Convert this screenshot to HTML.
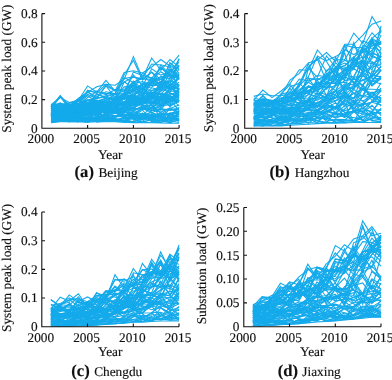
<!DOCTYPE html>
<html><head><meta charset="utf-8"><title>Load curves</title>
<style>
html,body{margin:0;padding:0;background:#fff}
svg{display:block}
text{font-family:"Liberation Serif",serif;fill:#111;text-rendering:geometricPrecision;stroke:#111;stroke-width:0.15px}
.t{font-size:13.3px}
.b{font-size:16.6px;font-weight:bold}
.pl polyline{fill:none;stroke:#14AAEB;stroke-width:1.1;stroke-linejoin:miter}
.ax{fill:none;stroke:#111;stroke-width:1.1}
</style></head><body>
<svg width="392" height="380" viewBox="0 0 392 380">
<rect width="392" height="380" fill="#fff"/>
<g class="pl">
<polyline points="51.0,104.6 60.2,97.6 69.3,102.5 78.5,100.0 87.6,85.9 96.8,92.2 105.9,80.4 115.1,91.1 124.2,72.4 133.4,70.8 142.5,73.0 151.7,67.0 160.8,59.5 170.0,66.0 179.1,55.2"/>
<polyline points="51.0,107.2 60.2,95.6 69.3,106.3 78.5,98.2 87.6,92.2 96.8,86.7 105.9,84.4 115.1,85.3 124.2,79.2 133.4,56.6 142.5,78.3 151.7,58.0 160.8,70.3 170.0,59.5 179.1,67.1"/>
<polyline points="51.0,122.6 60.2,121.8 69.3,121.8 78.5,121.8 87.6,122.3 96.8,121.8 105.9,121.8 115.1,121.8 124.2,122.1 133.4,122.6 142.5,122.6 151.7,122.6 160.8,122.9 170.0,123.3 179.1,123.3"/>
<polyline points="51.0,114.4 60.2,103.2 69.3,107.7 78.5,106.3 87.6,97.5 96.8,91.5 105.9,93.4 115.1,93.9 124.2,74.7 133.4,60.2 142.5,80.1 151.7,71.9 160.8,79.4 170.0,82.4 179.1,58.7"/>
<polyline points="51.0,115.3 60.2,102.9 69.3,109.5 78.5,100.8 87.6,91.7 96.8,91.0 105.9,94.8 115.1,89.5 124.2,89.7 133.4,82.3 142.5,77.7 151.7,64.0 160.8,65.0 170.0,74.8 179.1,76.7"/>
<polyline points="51.0,111.8 60.2,111.3 69.3,111.6 78.5,100.2 87.6,92.0 96.8,98.2 105.9,85.7 115.1,97.7 124.2,77.6 133.4,82.7 142.5,78.2 151.7,81.1 160.8,77.1 170.0,78.6 179.1,65.9"/>
<polyline points="51.0,108.9 60.2,96.7 69.3,108.8 78.5,105.8 87.6,100.1 96.8,98.0 105.9,85.8 115.1,90.9 124.2,90.8 133.4,74.9 142.5,85.9 151.7,68.8 160.8,75.1 170.0,72.1 179.1,62.1"/>
<polyline points="51.0,107.8 60.2,109.7 69.3,107.0 78.5,107.4 87.6,94.4 96.8,98.6 105.9,95.7 115.1,93.6 124.2,78.4 133.4,76.9 142.5,79.3 151.7,72.3 160.8,82.5 170.0,62.9 179.1,73.4"/>
<polyline points="51.0,107.3 60.2,96.8 69.3,105.0 78.5,104.9 87.6,92.3 96.8,96.4 105.9,91.8 115.1,93.6 124.2,93.0 133.4,71.9 142.5,75.5 151.7,78.1 160.8,68.1 170.0,75.5 179.1,78.4"/>
<polyline points="51.0,110.7 60.2,103.3 69.3,106.5 78.5,104.6 87.6,90.2 96.8,93.4 105.9,84.3 115.1,90.5 124.2,81.9 133.4,77.1 142.5,79.0 151.7,79.0 160.8,84.3 170.0,62.9 179.1,69.8"/>
<polyline points="51.0,113.6 60.2,115.0 69.3,110.3 78.5,112.4 87.6,107.0 96.8,111.5 105.9,109.0 115.1,103.8 124.2,98.3 133.4,99.2 142.5,94.2 151.7,97.3 160.8,82.2 170.0,85.9 179.1,89.8"/>
<polyline points="51.0,110.4 60.2,112.3 69.3,112.0 78.5,109.0 87.6,104.0 96.8,108.9 105.9,104.1 115.1,98.9 124.2,94.3 133.4,87.9 142.5,92.9 151.7,94.1 160.8,83.1 170.0,83.0 179.1,73.7"/>
<polyline points="51.0,115.3 60.2,114.7 69.3,112.0 78.5,110.2 87.6,113.8 96.8,110.4 105.9,111.7 115.1,109.0 124.2,106.7 133.4,102.4 142.5,88.2 151.7,95.2 160.8,86.0 170.0,84.6 179.1,77.5"/>
<polyline points="51.0,119.7 60.2,117.7 69.3,118.6 78.5,118.0 87.6,119.2 96.8,118.8 105.9,114.3 115.1,112.2 124.2,116.6 133.4,115.0 142.5,117.4 151.7,120.4 160.8,122.6 170.0,114.3 179.1,111.6"/>
<polyline points="51.0,122.3 60.2,117.8 69.3,121.5 78.5,117.8 87.6,117.4 96.8,119.7 105.9,119.6 115.1,115.8 124.2,116.1 133.4,111.4 142.5,119.2 151.7,116.3 160.8,115.5 170.0,118.8 179.1,119.9"/>
<polyline points="51.0,115.9 60.2,113.2 69.3,109.7 78.5,109.4 87.6,110.6 96.8,109.5 105.9,109.3 115.1,107.8 124.2,102.1 133.4,103.9 142.5,97.7 151.7,99.2 160.8,89.4 170.0,85.1 179.1,84.8"/>
<polyline points="51.0,114.4 60.2,116.4 69.3,111.5 78.5,114.2 87.6,113.7 96.8,109.9 105.9,110.8 115.1,112.9 124.2,116.8 133.4,106.1 142.5,102.9 151.7,102.7 160.8,98.6 170.0,106.6 179.1,100.2"/>
<polyline points="51.0,113.2 60.2,116.5 69.3,114.0 78.5,112.8 87.6,112.9 96.8,110.0 105.9,112.4 115.1,113.0 124.2,108.9 133.4,109.1 142.5,107.9 151.7,108.8 160.8,110.2 170.0,97.6 179.1,105.9"/>
<polyline points="51.0,109.9 60.2,114.2 69.3,110.0 78.5,114.9 87.6,106.8 96.8,103.6 105.9,104.6 115.1,108.0 124.2,93.5 133.4,97.4 142.5,97.0 151.7,95.0 160.8,88.6 170.0,85.7 179.1,78.8"/>
<polyline points="51.0,106.3 60.2,104.9 69.3,102.9 78.5,101.9 87.6,100.4 96.8,100.4 105.9,102.6 115.1,96.7 124.2,96.1 133.4,88.9 142.5,84.6 151.7,82.5 160.8,76.5 170.0,76.0 179.1,78.4"/>
<polyline points="51.0,118.6 60.2,118.7 69.3,119.5 78.5,118.5 87.6,118.8 96.8,117.7 105.9,115.2 115.1,119.5 124.2,121.9 133.4,121.6 142.5,119.3 151.7,119.3 160.8,116.7 170.0,120.2 179.1,116.2"/>
<polyline points="51.0,105.7 60.2,103.6 69.3,105.2 78.5,103.3 87.6,104.9 96.8,100.9 105.9,98.9 115.1,99.6 124.2,105.5 133.4,88.2 142.5,86.6 151.7,82.3 160.8,79.6 170.0,75.3 179.1,58.7"/>
<polyline points="51.0,115.1 60.2,119.2 69.3,121.7 78.5,117.7 87.6,121.5 96.8,120.5 105.9,119.7 115.1,121.4 124.2,121.9 133.4,121.0 142.5,113.1 151.7,121.6 160.8,122.4 170.0,118.9 179.1,121.0"/>
<polyline points="51.0,107.1 60.2,96.1 69.3,105.8 78.5,99.3 87.6,108.0 96.8,107.6 105.9,104.0 115.1,99.9 124.2,99.5 133.4,95.5 142.5,102.7 151.7,95.9 160.8,98.2 170.0,98.7 179.1,94.4"/>
<polyline points="51.0,114.7 60.2,110.8 69.3,114.0 78.5,114.4 87.6,114.0 96.8,114.2 105.9,110.9 115.1,111.5 124.2,112.2 133.4,113.1 142.5,108.7 151.7,104.0 160.8,118.4 170.0,120.1 179.1,119.7"/>
<polyline points="51.0,113.4 60.2,111.1 69.3,114.0 78.5,108.5 87.6,106.8 96.8,108.3 105.9,102.1 115.1,100.5 124.2,98.6 133.4,93.9 142.5,88.2 151.7,87.0 160.8,82.1 170.0,87.8 179.1,86.7"/>
<polyline points="51.0,104.9 60.2,105.3 69.3,107.3 78.5,100.0 87.6,95.7 96.8,101.8 105.9,98.2 115.1,98.4 124.2,86.9 133.4,86.4 142.5,88.0 151.7,82.6 160.8,67.2 170.0,76.1 179.1,77.9"/>
<polyline points="51.0,114.8 60.2,113.9 69.3,112.4 78.5,110.1 87.6,110.9 96.8,109.6 105.9,109.8 115.1,102.2 124.2,96.1 133.4,90.9 142.5,83.6 151.7,85.0 160.8,81.9 170.0,82.9 179.1,89.3"/>
<polyline points="51.0,107.9 60.2,107.3 69.3,106.6 78.5,104.8 87.6,99.9 96.8,102.7 105.9,100.4 115.1,93.9 124.2,95.9 133.4,90.5 142.5,88.6 151.7,77.4 160.8,84.4 170.0,71.3 179.1,75.9"/>
<polyline points="51.0,122.3 60.2,120.5 69.3,118.9 78.5,120.9 87.6,118.7 96.8,121.7 105.9,121.4 115.1,121.0 124.2,117.0 133.4,119.2 142.5,119.1 151.7,113.6 160.8,114.2 170.0,108.6 179.1,105.0"/>
<polyline points="51.0,114.0 60.2,109.6 69.3,111.4 78.5,116.7 87.6,118.3 96.8,117.6 105.9,121.1 115.1,120.8 124.2,120.5 133.4,115.9 142.5,122.0 151.7,119.5 160.8,121.0 170.0,122.4 179.1,111.1"/>
<polyline points="51.0,108.8 60.2,109.6 69.3,104.6 78.5,105.5 87.6,105.0 96.8,105.5 105.9,104.3 115.1,107.1 124.2,101.7 133.4,96.1 142.5,87.7 151.7,98.3 160.8,94.3 170.0,97.4 179.1,95.4"/>
<polyline points="51.0,120.2 60.2,119.2 69.3,117.1 78.5,118.8 87.6,119.2 96.8,116.9 105.9,117.9 115.1,116.5 124.2,111.0 133.4,111.3 142.5,106.8 151.7,111.0 160.8,105.8 170.0,104.6 179.1,101.4"/>
<polyline points="51.0,108.7 60.2,107.1 69.3,107.5 78.5,106.5 87.6,105.6 96.8,101.7 105.9,106.8 115.1,99.9 124.2,94.3 133.4,85.1 142.5,89.3 151.7,90.4 160.8,87.5 170.0,78.7 179.1,64.9"/>
<polyline points="51.0,120.6 60.2,116.9 69.3,116.8 78.5,115.8 87.6,115.7 96.8,113.7 105.9,117.4 115.1,118.4 124.2,111.3 133.4,114.5 142.5,115.3 151.7,107.0 160.8,96.1 170.0,98.5 179.1,93.2"/>
<polyline points="51.0,119.5 60.2,119.4 69.3,120.6 78.5,117.9 87.6,119.5 96.8,121.7 105.9,121.2 115.1,120.4 124.2,121.7 133.4,117.3 142.5,107.3 151.7,110.8 160.8,109.4 170.0,110.4 179.1,109.0"/>
<polyline points="51.0,108.3 60.2,109.7 69.3,108.9 78.5,99.5 87.6,104.8 96.8,93.4 105.9,98.5 115.1,99.4 124.2,92.7 133.4,81.0 142.5,89.3 151.7,82.2 160.8,83.7 170.0,70.0 179.1,78.8"/>
<polyline points="51.0,115.6 60.2,112.6 69.3,115.0 78.5,110.1 87.6,112.3 96.8,108.9 105.9,110.7 115.1,108.9 124.2,101.5 133.4,102.1 142.5,100.9 151.7,108.4 160.8,99.7 170.0,97.2 179.1,98.0"/>
<polyline points="51.0,116.0 60.2,114.6 69.3,114.7 78.5,116.1 87.6,112.1 96.8,107.6 105.9,109.1 115.1,106.4 124.2,105.3 133.4,99.1 142.5,104.4 151.7,97.7 160.8,99.9 170.0,99.4 179.1,89.3"/>
<polyline points="51.0,108.9 60.2,106.6 69.3,108.7 78.5,108.1 87.6,107.7 96.8,107.3 105.9,107.6 115.1,103.0 124.2,93.4 133.4,98.4 142.5,92.6 151.7,94.6 160.8,91.3 170.0,85.3 179.1,77.1"/>
<polyline points="51.0,117.2 60.2,116.6 69.3,114.0 78.5,118.3 87.6,112.4 96.8,108.9 105.9,108.4 115.1,108.3 124.2,96.5 133.4,97.1 142.5,83.1 151.7,82.8 160.8,84.8 170.0,81.9 179.1,69.0"/>
<polyline points="51.0,110.9 60.2,110.1 69.3,112.6 78.5,111.4 87.6,100.2 96.8,108.6 105.9,107.1 115.1,103.6 124.2,105.8 133.4,107.9 142.5,101.3 151.7,103.1 160.8,98.7 170.0,103.9 179.1,98.4"/>
<polyline points="51.0,115.9 60.2,118.1 69.3,117.4 78.5,113.2 87.6,113.4 96.8,111.4 105.9,110.7 115.1,109.6 124.2,106.7 133.4,103.5 142.5,102.5 151.7,103.1 160.8,97.9 170.0,100.1 179.1,101.1"/>
<polyline points="51.0,116.1 60.2,113.8 69.3,112.9 78.5,112.0 87.6,113.4 96.8,112.8 105.9,109.7 115.1,110.8 124.2,112.3 133.4,104.0 142.5,104.3 151.7,98.8 160.8,105.0 170.0,100.5 179.1,102.3"/>
<polyline points="51.0,122.5 60.2,119.9 69.3,121.4 78.5,120.3 87.6,119.7 96.8,120.3 105.9,118.1 115.1,120.4 124.2,118.6 133.4,117.8 142.5,114.8 151.7,112.3 160.8,117.4 170.0,109.1 179.1,111.8"/>
<polyline points="51.0,118.3 60.2,119.2 69.3,117.8 78.5,121.2 87.6,119.6 96.8,118.8 105.9,121.5 115.1,120.0 124.2,120.2 133.4,122.1 142.5,122.3 151.7,122.3 160.8,117.6 170.0,117.5 179.1,114.0"/>
<polyline points="51.0,117.0 60.2,114.0 69.3,114.5 78.5,111.0 87.6,113.4 96.8,112.8 105.9,112.2 115.1,113.1 124.2,108.2 133.4,108.2 142.5,109.2 151.7,110.1 160.8,112.1 170.0,107.8 179.1,112.5"/>
<polyline points="51.0,113.3 60.2,116.2 69.3,114.6 78.5,114.8 87.6,113.6 96.8,111.0 105.9,113.0 115.1,111.7 124.2,107.0 133.4,105.3 142.5,94.6 151.7,103.7 160.8,98.5 170.0,96.5 179.1,96.9"/>
<polyline points="51.0,114.0 60.2,113.2 69.3,111.3 78.5,113.7 87.6,111.7 96.8,114.1 105.9,110.3 115.1,110.0 124.2,109.9 133.4,110.5 142.5,105.9 151.7,107.6 160.8,107.7 170.0,99.6 179.1,110.7"/>
<polyline points="51.0,120.7 60.2,117.8 69.3,116.6 78.5,118.9 87.6,119.9 96.8,119.3 105.9,117.3 115.1,113.0 124.2,110.4 133.4,98.1 142.5,105.7 151.7,105.0 160.8,112.9 170.0,116.6 179.1,120.0"/>
<polyline points="51.0,111.1 60.2,106.6 69.3,110.0 78.5,104.4 87.6,104.9 96.8,107.1 105.9,106.0 115.1,102.7 124.2,81.7 133.4,88.5 142.5,97.5 151.7,78.0 160.8,79.6 170.0,69.1 179.1,74.8"/>
<polyline points="51.0,109.3 60.2,108.6 69.3,110.9 78.5,108.1 87.6,105.1 96.8,103.5 105.9,108.4 115.1,100.1 124.2,95.8 133.4,85.4 142.5,94.6 151.7,84.0 160.8,64.8 170.0,66.9 179.1,79.4"/>
<polyline points="51.0,116.3 60.2,110.9 69.3,112.4 78.5,109.4 87.6,110.5 96.8,105.4 105.9,108.6 115.1,101.6 124.2,93.7 133.4,89.0 142.5,73.3 151.7,78.6 160.8,79.4 170.0,84.9 179.1,84.8"/>
<polyline points="51.0,112.3 60.2,111.2 69.3,110.3 78.5,110.0 87.6,107.3 96.8,111.1 105.9,111.4 115.1,109.2 124.2,108.1 133.4,97.5 142.5,100.4 151.7,103.8 160.8,102.7 170.0,99.0 179.1,99.0"/>
<polyline points="51.0,119.3 60.2,119.4 69.3,120.1 78.5,121.1 87.6,121.8 96.8,118.2 105.9,121.5 115.1,120.9 124.2,121.7 133.4,117.4 142.5,115.4 151.7,118.0 160.8,112.5 170.0,120.9 179.1,118.0"/>
<polyline points="51.0,105.6 60.2,103.1 69.3,107.2 78.5,106.2 87.6,102.0 96.8,102.0 105.9,104.3 115.1,102.9 124.2,104.0 133.4,101.4 142.5,99.6 151.7,97.7 160.8,84.5 170.0,88.9 179.1,88.1"/>
<polyline points="51.0,112.4 60.2,108.8 69.3,109.8 78.5,104.4 87.6,106.9 96.8,97.5 105.9,97.7 115.1,100.7 124.2,93.4 133.4,83.8 142.5,81.7 151.7,85.8 160.8,84.8 170.0,66.6 179.1,68.1"/>
<polyline points="51.0,118.8 60.2,119.1 69.3,120.7 78.5,120.8 87.6,119.2 96.8,116.2 105.9,117.7 115.1,116.4 124.2,116.3 133.4,115.1 142.5,119.4 151.7,110.8 160.8,108.4 170.0,115.4 179.1,112.6"/>
<polyline points="51.0,115.5 60.2,114.3 69.3,112.6 78.5,110.5 87.6,105.1 96.8,102.5 105.9,102.4 115.1,102.5 124.2,95.9 133.4,83.1 142.5,90.6 151.7,80.0 160.8,71.7 170.0,77.4 179.1,76.8"/>
<polyline points="51.0,104.9 60.2,106.0 69.3,106.9 78.5,106.6 87.6,106.3 96.8,105.3 105.9,102.0 115.1,104.9 124.2,106.0 133.4,102.9 142.5,102.0 151.7,102.9 160.8,95.3 170.0,99.6 179.1,95.5"/>
<polyline points="51.0,120.1 60.2,121.5 69.3,121.3 78.5,121.6 87.6,118.7 96.8,121.4 105.9,118.5 115.1,119.0 124.2,118.7 133.4,114.3 142.5,115.7 151.7,114.6 160.8,115.0 170.0,113.7 179.1,120.6"/>
<polyline points="51.0,110.1 60.2,110.3 69.3,110.6 78.5,113.3 87.6,111.5 96.8,105.4 105.9,109.5 115.1,104.9 124.2,105.1 133.4,96.5 142.5,98.5 151.7,95.1 160.8,93.2 170.0,95.2 179.1,90.1"/>
<polyline points="51.0,104.7 60.2,106.2 69.3,106.3 78.5,107.2 87.6,102.7 96.8,108.1 105.9,100.6 115.1,104.8 124.2,98.9 133.4,95.2 142.5,90.6 151.7,92.8 160.8,105.1 170.0,95.7 179.1,100.5"/>
<polyline points="51.0,122.2 60.2,120.1 69.3,121.7 78.5,118.4 87.6,121.9 96.8,120.1 105.9,120.9 115.1,119.8 124.2,118.8 133.4,122.2 142.5,116.9 151.7,116.6 160.8,117.9 170.0,122.9 179.1,112.9"/>
<polyline points="51.0,105.5 60.2,105.6 69.3,110.3 78.5,106.8 87.6,104.9 96.8,100.1 105.9,102.8 115.1,94.1 124.2,103.4 133.4,92.1 142.5,91.5 151.7,79.9 160.8,83.9 170.0,89.8 179.1,82.2"/>
<polyline points="51.0,116.4 60.2,117.3 69.3,115.3 78.5,110.9 87.6,114.0 96.8,112.5 105.9,111.8 115.1,108.2 124.2,112.3 133.4,107.6 142.5,104.2 151.7,102.1 160.8,100.4 170.0,102.3 179.1,92.4"/>
<polyline points="51.0,106.9 60.2,105.8 69.3,109.0 78.5,99.7 87.6,110.2 96.8,108.0 105.9,114.0 115.1,113.5 124.2,112.2 133.4,113.8 142.5,114.1 151.7,115.6 160.8,115.2 170.0,122.8 179.1,119.6"/>
<polyline points="51.0,109.2 60.2,109.0 69.3,103.7 78.5,107.0 87.6,106.9 96.8,105.8 105.9,109.4 115.1,107.1 124.2,98.2 133.4,102.6 142.5,97.4 151.7,92.5 160.8,93.9 170.0,85.3 179.1,89.7"/>
<polyline points="51.0,107.9 60.2,105.8 69.3,107.2 78.5,98.9 87.6,105.7 96.8,94.5 105.9,96.9 115.1,94.1 124.2,90.9 133.4,83.2 142.5,93.6 151.7,82.6 160.8,87.4 170.0,80.3 179.1,85.3"/>
<polyline points="51.0,116.6 60.2,120.5 69.3,118.5 78.5,119.8 87.6,120.8 96.8,118.0 105.9,121.0 115.1,117.0 124.2,113.8 133.4,118.2 142.5,117.3 151.7,120.3 160.8,119.8 170.0,121.2 179.1,122.3"/>
<polyline points="51.0,115.9 60.2,116.3 69.3,115.5 78.5,115.6 87.6,120.4 96.8,121.8 105.9,118.9 115.1,118.5 124.2,121.8 133.4,114.5 142.5,118.8 151.7,118.3 160.8,114.3 170.0,114.5 179.1,116.9"/>
<polyline points="51.0,105.4 60.2,105.3 69.3,110.6 78.5,103.9 87.6,105.3 96.8,104.0 105.9,102.6 115.1,105.0 124.2,97.4 133.4,94.8 142.5,97.9 151.7,90.6 160.8,87.5 170.0,87.4 179.1,94.7"/>
<polyline points="51.0,109.5 60.2,108.9 69.3,112.4 78.5,109.0 87.6,102.9 96.8,107.9 105.9,105.0 115.1,104.2 124.2,103.2 133.4,101.2 142.5,100.5 151.7,101.8 160.8,99.1 170.0,90.9 179.1,91.8"/>
<polyline points="51.0,114.7 60.2,113.6 69.3,112.3 78.5,107.9 87.6,112.8 96.8,107.9 105.9,109.3 115.1,105.8 124.2,97.8 133.4,99.1 142.5,98.2 151.7,100.6 160.8,107.0 170.0,97.8 179.1,100.9"/>
<polyline points="51.0,114.9 60.2,115.2 69.3,115.8 78.5,115.4 87.6,115.4 96.8,114.6 105.9,109.8 115.1,107.2 124.2,103.6 133.4,99.5 142.5,100.0 151.7,94.6 160.8,97.5 170.0,87.8 179.1,91.8"/>
<polyline points="51.0,112.5 60.2,112.6 69.3,113.5 78.5,106.2 87.6,110.9 96.8,112.1 105.9,110.2 115.1,110.0 124.2,107.5 133.4,104.0 142.5,105.0 151.7,105.6 160.8,104.6 170.0,100.1 179.1,88.2"/>
<polyline points="51.0,112.6 60.2,113.3 69.3,114.0 78.5,105.1 87.6,110.9 96.8,111.4 105.9,108.1 115.1,108.4 124.2,95.2 133.4,104.5 142.5,102.5 151.7,96.3 160.8,102.4 170.0,89.3 179.1,86.4"/>
<polyline points="51.0,118.9 60.2,117.3 69.3,115.9 78.5,117.4 87.6,115.6 96.8,114.1 105.9,115.0 115.1,110.9 124.2,106.8 133.4,108.9 142.5,100.8 151.7,98.5 160.8,100.4 170.0,93.4 179.1,94.8"/>
<polyline points="51.0,113.1 60.2,110.5 69.3,110.8 78.5,109.0 87.6,109.8 96.8,104.3 105.9,100.6 115.1,104.2 124.2,96.7 133.4,90.4 142.5,96.1 151.7,87.8 160.8,90.1 170.0,72.8 179.1,86.0"/>
<polyline points="51.0,122.4 60.2,121.2 69.3,121.6 78.5,121.5 87.6,122.0 96.8,120.1 105.9,121.4 115.1,120.2 124.2,120.2 133.4,122.5 142.5,121.1 151.7,115.8 160.8,119.8 170.0,122.4 179.1,114.5"/>
<polyline points="51.0,119.7 60.2,119.7 69.3,117.8 78.5,118.4 87.6,119.1 96.8,111.7 105.9,116.5 115.1,110.5 124.2,107.7 133.4,104.1 142.5,99.0 151.7,103.5 160.8,102.1 170.0,99.9 179.1,91.7"/>
<polyline points="51.0,113.8 60.2,114.5 69.3,112.2 78.5,113.2 87.6,114.5 96.8,108.7 105.9,112.2 115.1,110.8 124.2,108.6 133.4,108.0 142.5,96.5 151.7,103.2 160.8,103.8 170.0,101.2 179.1,100.7"/>
<polyline points="51.0,122.0 60.2,118.4 69.3,117.9 78.5,118.8 87.6,116.9 96.8,115.8 105.9,114.1 115.1,110.8 124.2,108.4 133.4,103.7 142.5,102.1 151.7,91.6 160.8,97.6 170.0,89.0 179.1,85.0"/>
<polyline points="51.0,114.7 60.2,114.9 69.3,118.3 78.5,118.8 87.6,119.5 96.8,121.6 105.9,121.3 115.1,119.9 124.2,121.7 133.4,116.5 142.5,116.4 151.7,117.4 160.8,122.4 170.0,115.6 179.1,119.9"/>
<polyline points="51.0,121.8 60.2,120.0 69.3,120.8 78.5,121.8 87.6,118.8 96.8,120.1 105.9,120.0 115.1,116.3 124.2,117.2 133.4,118.2 142.5,119.0 151.7,116.2 160.8,117.2 170.0,117.6 179.1,118.5"/>
<polyline points="51.0,112.4 60.2,117.1 69.3,115.9 78.5,113.7 87.6,113.3 96.8,115.9 105.9,109.7 115.1,111.1 124.2,114.3 133.4,114.6 142.5,118.2 151.7,117.9 160.8,116.9 170.0,118.1 179.1,120.9"/>
<polyline points="51.0,114.3 60.2,116.8 69.3,115.1 78.5,116.8 87.6,113.2 96.8,109.3 105.9,114.3 115.1,111.9 124.2,114.4 133.4,115.2 142.5,108.4 151.7,112.7 160.8,108.9 170.0,109.7 179.1,108.0"/>
<polyline points="51.0,106.9 60.2,107.7 69.3,106.9 78.5,107.3 87.6,109.5 96.8,103.4 105.9,107.8 115.1,102.3 124.2,102.6 133.4,95.6 142.5,100.5 151.7,96.8 160.8,97.5 170.0,93.7 179.1,96.0"/>
<polyline points="51.0,111.8 60.2,113.2 69.3,111.9 78.5,111.3 87.6,108.2 96.8,106.4 105.9,104.7 115.1,109.5 124.2,101.5 133.4,97.8 142.5,99.6 151.7,93.9 160.8,93.6 170.0,95.7 179.1,101.4"/>
<polyline points="51.0,115.0 60.2,117.5 69.3,113.6 78.5,115.6 87.6,114.3 96.8,113.1 105.9,115.4 115.1,115.6 124.2,115.2 133.4,111.7 142.5,113.9 151.7,118.1 160.8,117.4 170.0,112.9 179.1,113.3"/>
<polyline points="51.0,112.3 60.2,112.4 69.3,108.8 78.5,110.0 87.6,109.9 96.8,107.0 105.9,107.4 115.1,100.8 124.2,96.3 133.4,100.5 142.5,99.9 151.7,93.9 160.8,88.0 170.0,92.8 179.1,74.9"/>
<polyline points="51.0,119.2 60.2,118.1 69.3,117.5 78.5,111.7 87.6,115.0 96.8,110.3 105.9,118.0 115.1,116.6 124.2,110.8 133.4,108.9 142.5,109.0 151.7,109.1 160.8,104.9 170.0,102.4 179.1,95.5"/>
<polyline points="51.0,119.6 60.2,116.0 69.3,120.0 78.5,116.1 87.6,117.7 96.8,117.6 105.9,118.7 115.1,119.8 124.2,118.0 133.4,119.1 142.5,122.5 151.7,119.1 160.8,120.6 170.0,115.4 179.1,107.4"/>
<polyline points="51.0,111.5 60.2,113.3 69.3,106.6 78.5,110.0 87.6,107.7 96.8,109.3 105.9,105.4 115.1,102.9 124.2,104.4 133.4,103.6 142.5,99.8 151.7,95.7 160.8,94.0 170.0,99.1 179.1,91.9"/>
<polyline points="51.0,105.3 60.2,107.9 69.3,104.2 78.5,103.7 87.6,103.4 96.8,107.2 105.9,107.8 115.1,107.8 124.2,106.6 133.4,98.3 142.5,105.8 151.7,108.8 160.8,99.8 170.0,106.0 179.1,100.3"/>
<polyline points="51.0,112.8 60.2,111.4 69.3,113.9 78.5,112.7 87.6,110.5 96.8,108.5 105.9,107.6 115.1,107.0 124.2,109.3 133.4,102.9 142.5,97.7 151.7,98.6 160.8,96.8 170.0,96.4 179.1,97.8"/>
<polyline points="51.0,120.2 60.2,116.2 69.3,116.0 78.5,114.5 87.6,113.6 96.8,110.2 105.9,107.5 115.1,112.4 124.2,104.0 133.4,101.3 142.5,97.5 151.7,103.1 160.8,91.0 170.0,87.9 179.1,92.6"/>
<polyline points="51.0,118.1 60.2,114.4 69.3,114.8 78.5,111.6 87.6,111.3 96.8,110.7 105.9,113.5 115.1,111.9 124.2,107.1 133.4,105.6 142.5,101.0 151.7,96.1 160.8,100.0 170.0,100.5 179.1,88.6"/>
<polyline points="51.0,120.0 60.2,118.9 69.3,119.5 78.5,119.6 87.6,116.9 96.8,117.8 105.9,113.6 115.1,116.9 124.2,114.0 133.4,116.0 142.5,110.1 151.7,120.3 160.8,113.9 170.0,113.7 179.1,110.7"/>
<polyline points="51.0,109.2 60.2,108.3 69.3,109.3 78.5,110.4 87.6,102.5 96.8,105.4 105.9,97.6 115.1,98.4 124.2,94.8 133.4,91.6 142.5,83.9 151.7,85.3 160.8,85.4 170.0,86.7 179.1,88.7"/>
</g>
<path class="ax" d="M41.9 13.6V128.3H179.1M41.9 128.3h3.2M41.9 99.6h3.2M41.9 71.0h3.2M41.9 42.3h3.2M41.9 13.6h3.2M41.9 128.3v-3.2M87.6 128.3v-3.2M133.4 128.3v-3.2M179.1 128.3v-3.2"/>
<text class="t" text-anchor="end" x="37.7" y="132.7">0</text>
<text class="t" text-anchor="end" x="37.7" y="104.0">0.2</text>
<text class="t" text-anchor="end" x="37.7" y="75.4">0.4</text>
<text class="t" text-anchor="end" x="37.7" y="46.7">0.6</text>
<text class="t" text-anchor="end" x="37.7" y="18.0">0.8</text>
<text class="t" text-anchor="middle" x="40.9" y="143.4">2000</text>
<text class="t" text-anchor="middle" x="86.6" y="143.4">2005</text>
<text class="t" text-anchor="middle" x="132.4" y="143.4">2010</text>
<text class="t" text-anchor="middle" x="178.1" y="143.4">2015</text>
<text class="t" text-anchor="middle" x="110.3" y="159.4">Year</text>
<text class="t" text-anchor="middle" transform="translate(11.4 68.6) rotate(-90)">System peak load (GW)</text>
<text class="b" x="74.6" y="177.2">(a)</text>
<text class="t" x="98.5" y="177.2">Beijing</text>
<g class="pl">
<polyline points="253.8,96.4 262.9,94.0 272.0,95.8 281.1,95.5 290.2,79.8 299.3,73.4 308.4,62.9 317.4,59.9 326.5,52.6 335.6,61.5 344.7,44.3 353.8,44.3 362.9,35.1 372.0,24.2 381.1,21.0"/>
<polyline points="253.8,99.8 262.9,90.1 272.0,97.6 281.1,91.0 290.2,83.4 299.3,69.8 308.4,70.3 317.4,50.0 326.5,60.5 335.6,56.6 344.7,50.9 353.8,33.1 362.9,43.5 372.0,16.5 381.1,31.0"/>
<polyline points="253.8,125.9 262.9,125.9 272.0,125.9 281.1,125.9 290.2,125.3 299.3,124.8 308.4,124.2 317.4,123.6 326.5,123.3 335.6,123.3 344.7,123.0 353.8,122.5 362.9,122.5 372.0,122.5 381.1,122.5"/>
<polyline points="253.8,101.1 262.9,99.4 272.0,101.1 281.1,100.4 290.2,95.7 299.3,85.6 308.4,76.7 317.4,56.0 326.5,61.4 335.6,76.5 344.7,49.7 353.8,54.6 362.9,48.8 372.0,56.7 381.1,59.6"/>
<polyline points="253.8,111.4 262.9,102.2 272.0,107.3 281.1,105.1 290.2,86.8 299.3,83.3 308.4,67.7 317.4,57.5 326.5,71.9 335.6,59.9 344.7,59.6 353.8,44.6 362.9,58.3 372.0,53.1 381.1,57.0"/>
<polyline points="253.8,109.4 262.9,110.7 272.0,100.6 281.1,98.3 290.2,98.2 299.3,86.7 308.4,67.0 317.4,59.0 326.5,81.9 335.6,77.1 344.7,77.1 353.8,42.5 362.9,68.1 372.0,58.7 381.1,25.8"/>
<polyline points="253.8,112.7 262.9,113.4 272.0,116.3 281.1,104.5 290.2,100.8 299.3,103.3 308.4,86.3 317.4,91.6 326.5,94.8 335.6,91.1 344.7,83.9 353.8,85.0 362.9,70.5 372.0,41.7 381.1,53.3"/>
<polyline points="253.8,111.8 262.9,111.6 272.0,110.7 281.1,114.0 290.2,110.0 299.3,110.4 308.4,110.8 317.4,110.2 326.5,117.3 335.6,121.8 344.7,122.6 353.8,121.3 362.9,117.3 372.0,112.0 381.1,119.7"/>
<polyline points="253.8,110.8 262.9,111.3 272.0,110.3 281.1,108.2 290.2,110.0 299.3,94.5 308.4,92.9 317.4,84.3 326.5,87.5 335.6,78.9 344.7,88.3 353.8,60.5 362.9,51.8 372.0,63.3 381.1,59.4"/>
<polyline points="253.8,125.3 262.9,125.8 272.0,120.3 281.1,122.9 290.2,121.1 299.3,119.7 308.4,118.2 317.4,111.5 326.5,105.9 335.6,108.6 344.7,101.4 353.8,104.8 362.9,105.0 372.0,102.0 381.1,89.9"/>
<polyline points="253.8,117.6 262.9,116.8 272.0,114.8 281.1,119.0 290.2,115.7 299.3,115.9 308.4,116.4 317.4,123.4 326.5,122.1 335.6,122.7 344.7,121.3 353.8,120.3 362.9,114.0 372.0,115.1 381.1,109.8"/>
<polyline points="253.8,120.2 262.9,119.9 272.0,113.9 281.1,117.0 290.2,119.9 299.3,115.2 308.4,108.4 317.4,106.7 326.5,104.7 335.6,101.1 344.7,94.9 353.8,86.3 362.9,72.0 372.0,78.4 381.1,78.7"/>
<polyline points="253.8,107.7 262.9,107.0 272.0,103.0 281.1,116.9 290.2,114.1 299.3,113.1 308.4,109.0 317.4,111.5 326.5,105.5 335.6,107.3 344.7,112.1 353.8,121.7 362.9,122.3 372.0,117.9 381.1,117.3"/>
<polyline points="253.8,103.7 262.9,105.5 272.0,102.0 281.1,103.6 290.2,97.5 299.3,91.4 308.4,82.2 317.4,87.9 326.5,83.4 335.6,81.8 344.7,77.8 353.8,61.6 362.9,69.0 372.0,74.7 381.1,56.0"/>
<polyline points="253.8,115.2 262.9,115.1 272.0,110.0 281.1,108.2 290.2,109.4 299.3,106.3 308.4,107.4 317.4,93.4 326.5,97.3 335.6,100.9 344.7,91.9 353.8,98.9 362.9,72.5 372.0,66.0 381.1,55.8"/>
<polyline points="253.8,115.7 262.9,121.3 272.0,113.3 281.1,108.7 290.2,112.2 299.3,111.6 308.4,109.6 317.4,102.0 326.5,100.4 335.6,97.9 344.7,86.3 353.8,93.2 362.9,89.1 372.0,89.2 381.1,89.7"/>
<polyline points="253.8,102.9 262.9,104.1 272.0,102.1 281.1,105.6 290.2,107.9 299.3,101.9 308.4,100.0 317.4,84.4 326.5,78.5 335.6,82.7 344.7,74.0 353.8,77.6 362.9,86.3 372.0,61.6 381.1,70.7"/>
<polyline points="253.8,123.5 262.9,123.4 272.0,124.9 281.1,125.5 290.2,123.3 299.3,120.7 308.4,113.9 317.4,111.2 326.5,117.2 335.6,122.7 344.7,120.8 353.8,120.5 362.9,116.0 372.0,120.6 381.1,119.1"/>
<polyline points="253.8,118.5 262.9,113.3 272.0,110.6 281.1,111.3 290.2,112.3 299.3,102.5 308.4,105.2 317.4,99.1 326.5,87.3 335.6,79.0 344.7,69.0 353.8,68.1 362.9,49.8 372.0,46.3 381.1,42.1"/>
<polyline points="253.8,124.3 262.9,125.9 272.0,123.5 281.1,120.1 290.2,120.9 299.3,120.7 308.4,116.9 317.4,120.4 326.5,116.5 335.6,113.8 344.7,114.5 353.8,122.1 362.9,104.7 372.0,120.9 381.1,121.6"/>
<polyline points="253.8,119.6 262.9,120.8 272.0,116.1 281.1,111.9 290.2,114.5 299.3,107.7 308.4,99.0 317.4,107.4 326.5,95.9 335.6,90.7 344.7,106.7 353.8,89.3 362.9,97.0 372.0,96.4 381.1,90.2"/>
<polyline points="253.8,108.9 262.9,104.1 272.0,106.8 281.1,100.2 290.2,88.4 299.3,100.8 308.4,100.8 317.4,82.7 326.5,83.7 335.6,90.7 344.7,70.6 353.8,60.7 362.9,57.1 372.0,38.0 381.1,64.1"/>
<polyline points="253.8,125.7 262.9,120.2 272.0,121.3 281.1,122.4 290.2,119.2 299.3,109.0 308.4,107.2 317.4,109.5 326.5,105.2 335.6,94.2 344.7,85.1 353.8,89.0 362.9,75.7 372.0,81.7 381.1,70.3"/>
<polyline points="253.8,99.5 262.9,103.4 272.0,109.6 281.1,103.0 290.2,97.7 299.3,103.9 308.4,94.1 317.4,96.8 326.5,82.9 335.6,76.6 344.7,52.9 353.8,84.6 362.9,62.1 372.0,77.1 381.1,66.7"/>
<polyline points="253.8,104.7 262.9,109.7 272.0,109.4 281.1,106.6 290.2,107.5 299.3,107.4 308.4,104.8 317.4,105.6 326.5,100.3 335.6,107.8 344.7,99.5 353.8,105.8 362.9,88.0 372.0,97.2 381.1,101.4"/>
<polyline points="253.8,125.9 262.9,121.3 272.0,123.2 281.1,125.5 290.2,114.5 299.3,116.6 308.4,115.4 317.4,117.1 326.5,119.7 335.6,112.3 344.7,100.1 353.8,93.3 362.9,101.3 372.0,94.6 381.1,88.1"/>
<polyline points="253.8,118.4 262.9,115.2 272.0,109.1 281.1,111.0 290.2,99.8 299.3,98.1 308.4,85.6 317.4,89.8 326.5,85.8 335.6,56.9 344.7,76.6 353.8,58.9 362.9,40.7 372.0,45.4 381.1,43.4"/>
<polyline points="253.8,114.2 262.9,113.8 272.0,112.8 281.1,109.9 290.2,113.3 299.3,109.1 308.4,108.1 317.4,103.8 326.5,109.9 335.6,114.1 344.7,115.0 353.8,111.4 362.9,119.9 372.0,111.8 381.1,113.8"/>
<polyline points="253.8,111.5 262.9,102.7 272.0,106.7 281.1,109.4 290.2,109.8 299.3,104.0 308.4,99.7 317.4,100.3 326.5,95.5 335.6,97.2 344.7,97.4 353.8,100.5 362.9,100.7 372.0,109.5 381.1,110.1"/>
<polyline points="253.8,118.2 262.9,117.0 272.0,121.3 281.1,124.0 290.2,120.0 299.3,122.0 308.4,119.8 317.4,114.8 326.5,110.6 335.6,107.5 344.7,110.6 353.8,108.0 362.9,112.6 372.0,101.1 381.1,102.3"/>
<polyline points="253.8,118.4 262.9,121.2 272.0,122.0 281.1,118.1 290.2,123.7 299.3,122.1 308.4,115.6 317.4,112.8 326.5,109.2 335.6,102.4 344.7,112.6 353.8,111.6 362.9,114.0 372.0,112.8 381.1,112.5"/>
<polyline points="253.8,117.6 262.9,114.5 272.0,111.3 281.1,110.2 290.2,109.6 299.3,105.6 308.4,99.1 317.4,98.1 326.5,96.5 335.6,94.3 344.7,89.3 353.8,86.3 362.9,84.3 372.0,76.6 381.1,53.3"/>
<polyline points="253.8,102.8 262.9,110.9 272.0,101.8 281.1,94.2 290.2,91.8 299.3,98.4 308.4,98.0 317.4,86.4 326.5,81.9 335.6,84.0 344.7,82.2 353.8,85.2 362.9,90.0 372.0,80.3 381.1,69.7"/>
<polyline points="253.8,117.5 262.9,112.1 272.0,108.4 281.1,106.4 290.2,110.0 299.3,106.7 308.4,106.0 317.4,103.6 326.5,95.2 335.6,91.5 344.7,89.3 353.8,88.1 362.9,79.5 372.0,76.7 381.1,65.8"/>
<polyline points="253.8,100.2 262.9,105.4 272.0,106.8 281.1,100.4 290.2,103.2 299.3,106.5 308.4,67.9 317.4,77.3 326.5,56.0 335.6,67.1 344.7,63.1 353.8,69.3 362.9,45.2 372.0,48.4 381.1,43.7"/>
<polyline points="253.8,116.7 262.9,111.7 272.0,112.6 281.1,110.6 290.2,110.9 299.3,107.2 308.4,105.6 317.4,106.6 326.5,97.3 335.6,86.1 344.7,80.7 353.8,79.2 362.9,80.6 372.0,75.5 381.1,76.5"/>
<polyline points="253.8,109.4 262.9,106.7 272.0,103.0 281.1,113.4 290.2,114.7 299.3,106.7 308.4,101.3 317.4,103.4 326.5,99.0 335.6,97.7 344.7,90.8 353.8,109.6 362.9,96.4 372.0,92.6 381.1,102.3"/>
<polyline points="253.8,110.9 262.9,107.7 272.0,112.2 281.1,109.6 290.2,103.6 299.3,92.9 308.4,92.7 317.4,82.2 326.5,89.2 335.6,77.4 344.7,69.3 353.8,83.8 362.9,71.8 372.0,85.9 381.1,78.6"/>
<polyline points="253.8,118.8 262.9,115.4 272.0,113.4 281.1,113.9 290.2,113.3 299.3,113.0 308.4,107.0 317.4,106.4 326.5,107.6 335.6,107.3 344.7,115.6 353.8,103.1 362.9,105.5 372.0,92.1 381.1,99.7"/>
<polyline points="253.8,123.0 262.9,120.7 272.0,120.7 281.1,119.4 290.2,119.3 299.3,117.3 308.4,114.4 317.4,110.8 326.5,113.1 335.6,106.6 344.7,103.9 353.8,107.3 362.9,104.3 372.0,102.3 381.1,104.9"/>
<polyline points="253.8,123.7 262.9,119.5 272.0,121.3 281.1,125.5 290.2,123.7 299.3,118.7 308.4,118.2 317.4,120.9 326.5,122.4 335.6,112.9 344.7,114.0 353.8,110.8 362.9,109.9 372.0,111.4 381.1,99.9"/>
<polyline points="253.8,118.3 262.9,117.1 272.0,117.5 281.1,121.2 290.2,123.7 299.3,123.6 308.4,120.0 317.4,118.6 326.5,115.9 335.6,116.2 344.7,116.5 353.8,117.6 362.9,120.5 372.0,119.5 381.1,108.0"/>
<polyline points="253.8,103.0 262.9,100.4 272.0,101.0 281.1,101.5 290.2,105.8 299.3,94.4 308.4,90.8 317.4,83.9 326.5,79.2 335.6,75.1 344.7,45.2 353.8,64.0 362.9,70.7 372.0,52.5 381.1,56.9"/>
<polyline points="253.8,121.0 262.9,122.1 272.0,122.4 281.1,117.4 290.2,120.2 299.3,121.7 308.4,112.3 317.4,113.2 326.5,121.2 335.6,119.3 344.7,119.6 353.8,120.5 362.9,122.4 372.0,118.1 381.1,117.5"/>
<polyline points="253.8,108.3 262.9,105.8 272.0,100.8 281.1,100.6 290.2,106.1 299.3,103.7 308.4,101.0 317.4,92.8 326.5,99.5 335.6,90.8 344.7,95.7 353.8,97.8 362.9,95.3 372.0,81.9 381.1,77.6"/>
<polyline points="253.8,109.9 262.9,100.4 272.0,105.1 281.1,104.5 290.2,101.0 299.3,98.1 308.4,91.9 317.4,79.8 326.5,75.2 335.6,62.8 344.7,70.5 353.8,67.0 362.9,60.7 372.0,63.9 381.1,64.3"/>
<polyline points="253.8,98.0 262.9,100.6 272.0,101.0 281.1,100.5 290.2,101.6 299.3,82.5 308.4,93.9 317.4,89.8 326.5,70.2 335.6,68.3 344.7,69.0 353.8,64.8 362.9,70.4 372.0,41.2 381.1,48.2"/>
<polyline points="253.8,113.0 262.9,112.9 272.0,111.5 281.1,110.9 290.2,108.2 299.3,108.6 308.4,108.5 317.4,117.8 326.5,110.9 335.6,109.5 344.7,102.9 353.8,122.2 362.9,116.8 372.0,113.3 381.1,121.2"/>
<polyline points="253.8,122.2 262.9,121.5 272.0,122.3 281.1,122.7 290.2,120.5 299.3,117.9 308.4,123.3 317.4,116.5 326.5,111.1 335.6,114.9 344.7,114.1 353.8,111.1 362.9,108.3 372.0,112.5 381.1,98.1"/>
<polyline points="253.8,105.3 262.9,105.6 272.0,102.8 281.1,101.7 290.2,91.8 299.3,79.0 308.4,80.7 317.4,78.5 326.5,82.5 335.6,71.8 344.7,80.9 353.8,76.2 362.9,60.4 372.0,70.1 381.1,48.1"/>
<polyline points="253.8,124.8 262.9,125.0 272.0,122.3 281.1,122.9 290.2,116.9 299.3,112.7 308.4,109.7 317.4,109.8 326.5,102.9 335.6,95.0 344.7,97.7 353.8,93.3 362.9,96.6 372.0,80.9 381.1,84.1"/>
<polyline points="253.8,117.1 262.9,117.7 272.0,114.5 281.1,117.1 290.2,116.1 299.3,108.4 308.4,101.7 317.4,105.5 326.5,103.3 335.6,112.8 344.7,117.5 353.8,110.0 362.9,121.4 372.0,114.9 381.1,109.0"/>
<polyline points="253.8,110.0 262.9,111.3 272.0,109.1 281.1,106.2 290.2,103.8 299.3,114.8 308.4,102.5 317.4,106.5 326.5,98.6 335.6,97.6 344.7,87.6 353.8,78.9 362.9,85.1 372.0,75.0 381.1,77.4"/>
<polyline points="253.8,113.8 262.9,111.4 272.0,113.6 281.1,112.9 290.2,112.4 299.3,114.3 308.4,112.6 317.4,111.3 326.5,114.0 335.6,118.2 344.7,114.8 353.8,102.8 362.9,113.0 372.0,105.3 381.1,115.7"/>
<polyline points="253.8,103.7 262.9,104.1 272.0,101.4 281.1,103.2 290.2,101.8 299.3,92.2 308.4,90.2 317.4,92.2 326.5,75.2 335.6,77.1 344.7,90.9 353.8,77.3 362.9,75.9 372.0,67.2 381.1,64.7"/>
<polyline points="253.8,119.0 262.9,119.1 272.0,115.6 281.1,114.7 290.2,109.2 299.3,108.7 308.4,99.1 317.4,110.5 326.5,102.4 335.6,91.2 344.7,72.9 353.8,66.3 362.9,47.0 372.0,32.8 381.1,42.4"/>
<polyline points="253.8,102.7 262.9,102.9 272.0,101.7 281.1,106.6 290.2,96.7 299.3,93.7 308.4,86.4 317.4,89.4 326.5,73.5 335.6,70.6 344.7,94.2 353.8,77.4 362.9,58.1 372.0,50.2 381.1,41.3"/>
<polyline points="253.8,104.4 262.9,98.6 272.0,100.2 281.1,101.0 290.2,93.6 299.3,85.0 308.4,63.5 317.4,84.9 326.5,75.8 335.6,70.1 344.7,65.4 353.8,58.1 362.9,66.5 372.0,38.3 381.1,44.2"/>
<polyline points="253.8,111.6 262.9,109.4 272.0,103.6 281.1,105.5 290.2,98.0 299.3,89.4 308.4,86.3 317.4,86.9 326.5,77.9 335.6,70.2 344.7,79.7 353.8,57.2 362.9,73.2 372.0,56.1 381.1,34.9"/>
<polyline points="253.8,109.4 262.9,108.8 272.0,108.1 281.1,98.0 290.2,101.0 299.3,96.3 308.4,87.1 317.4,88.0 326.5,77.7 335.6,67.0 344.7,60.4 353.8,62.8 362.9,51.6 372.0,52.0 381.1,30.9"/>
<polyline points="253.8,123.7 262.9,121.4 272.0,121.1 281.1,119.5 290.2,118.1 299.3,120.5 308.4,119.1 317.4,122.7 326.5,111.2 335.6,113.3 344.7,105.8 353.8,100.7 362.9,108.3 372.0,101.7 381.1,95.1"/>
<polyline points="253.8,125.9 262.9,124.5 272.0,125.7 281.1,124.7 290.2,123.9 299.3,123.4 308.4,122.5 317.4,123.0 326.5,113.3 335.6,117.5 344.7,109.0 353.8,101.1 362.9,103.7 372.0,96.6 381.1,106.1"/>
<polyline points="253.8,119.1 262.9,121.9 272.0,121.2 281.1,123.7 290.2,120.4 299.3,120.4 308.4,120.9 317.4,118.0 326.5,118.6 335.6,120.8 344.7,120.1 353.8,111.8 362.9,111.6 372.0,116.2 381.1,119.4"/>
<polyline points="253.8,107.0 262.9,105.2 272.0,111.1 281.1,100.0 290.2,96.7 299.3,98.1 308.4,94.9 317.4,80.0 326.5,95.4 335.6,84.4 344.7,76.7 353.8,81.7 362.9,90.0 372.0,92.9 381.1,90.2"/>
<polyline points="253.8,113.0 262.9,112.4 272.0,112.8 281.1,111.3 290.2,108.8 299.3,106.5 308.4,102.1 317.4,96.2 326.5,88.0 335.6,85.7 344.7,76.7 353.8,68.8 362.9,74.3 372.0,85.7 381.1,76.4"/>
<polyline points="253.8,105.2 262.9,100.9 272.0,105.3 281.1,98.0 290.2,95.9 299.3,89.9 308.4,81.9 317.4,75.5 326.5,76.6 335.6,80.3 344.7,44.9 353.8,47.6 362.9,47.6 372.0,55.3 381.1,60.2"/>
<polyline points="253.8,122.3 262.9,120.3 272.0,113.9 281.1,120.5 290.2,114.8 299.3,115.3 308.4,113.9 317.4,111.8 326.5,104.6 335.6,107.1 344.7,91.5 353.8,102.8 362.9,96.5 372.0,71.1 381.1,70.8"/>
<polyline points="253.8,104.7 262.9,95.2 272.0,105.3 281.1,109.1 290.2,97.9 299.3,100.3 308.4,90.2 317.4,94.2 326.5,97.5 335.6,67.6 344.7,65.9 353.8,56.6 362.9,51.7 372.0,40.4 381.1,42.8"/>
<polyline points="253.8,112.7 262.9,116.4 272.0,121.4 281.1,116.0 290.2,111.4 299.3,111.2 308.4,120.2 317.4,112.7 326.5,111.8 335.6,106.8 344.7,96.4 353.8,98.9 362.9,84.9 372.0,97.3 381.1,82.8"/>
<polyline points="253.8,106.6 262.9,96.1 272.0,105.7 281.1,93.7 290.2,84.7 299.3,96.9 308.4,77.9 317.4,91.1 326.5,83.3 335.6,83.4 344.7,69.4 353.8,69.0 362.9,48.7 372.0,38.4 381.1,30.6"/>
<polyline points="253.8,111.0 262.9,114.4 272.0,111.2 281.1,108.3 290.2,111.0 299.3,92.0 308.4,104.4 317.4,103.3 326.5,102.9 335.6,98.1 344.7,95.2 353.8,111.3 362.9,103.3 372.0,96.9 381.1,97.6"/>
<polyline points="253.8,121.7 262.9,121.5 272.0,119.4 281.1,117.8 290.2,117.6 299.3,113.5 308.4,115.3 317.4,114.2 326.5,108.0 335.6,107.1 344.7,94.5 353.8,102.8 362.9,85.6 372.0,100.7 381.1,90.8"/>
<polyline points="253.8,105.6 262.9,103.2 272.0,103.2 281.1,95.7 290.2,93.6 299.3,92.8 308.4,78.3 317.4,79.5 326.5,75.8 335.6,69.0 344.7,67.7 353.8,64.4 362.9,59.9 372.0,42.8 381.1,53.3"/>
<polyline points="253.8,118.3 262.9,122.0 272.0,118.8 281.1,116.2 290.2,116.7 299.3,108.7 308.4,109.5 317.4,96.4 326.5,102.1 335.6,100.8 344.7,98.6 353.8,88.1 362.9,60.7 372.0,84.5 381.1,78.4"/>
</g>
<path class="ax" d="M244.7 13.6V128.2H381.1M244.7 128.2h3.2M244.7 99.5h3.2M244.7 70.9h3.2M244.7 42.2h3.2M244.7 13.6h3.2M244.7 128.2v-3.2M290.2 128.2v-3.2M335.6 128.2v-3.2M381.1 128.2v-3.2"/>
<text class="t" text-anchor="end" x="239.5" y="132.6">0</text>
<text class="t" text-anchor="end" x="239.5" y="103.9">0.1</text>
<text class="t" text-anchor="end" x="239.5" y="75.3">0.2</text>
<text class="t" text-anchor="end" x="239.5" y="46.6">0.3</text>
<text class="t" text-anchor="end" x="239.5" y="18.0">0.4</text>
<text class="t" text-anchor="middle" x="243.7" y="143.4">2000</text>
<text class="t" text-anchor="middle" x="289.2" y="143.4">2005</text>
<text class="t" text-anchor="middle" x="334.6" y="143.4">2010</text>
<text class="t" text-anchor="middle" x="380.1" y="143.4">2015</text>
<text class="t" text-anchor="middle" x="312.7" y="159.3">Year</text>
<text class="t" text-anchor="middle" transform="translate(213.1 68.2) rotate(-90)">System peak load (GW)</text>
<text class="b" x="269.4" y="177.1">(b)</text>
<text class="t" x="294.7" y="177.1">Hangzhou</text>
<g class="pl">
<polyline points="50.9,299.5 60.1,306.6 69.2,294.9 78.4,301.6 87.5,296.9 96.7,301.7 105.8,290.6 115.0,291.6 124.1,278.8 133.3,287.5 142.4,263.3 151.6,275.6 160.7,251.9 169.9,270.7 179.0,245.0"/>
<polyline points="50.9,309.1 60.1,297.2 69.2,301.0 78.4,293.7 87.5,307.2 96.7,292.6 105.8,299.7 115.0,274.8 124.1,288.2 133.3,268.5 142.4,280.4 151.6,259.3 160.7,271.3 169.9,254.4 179.0,261.0"/>
<polyline points="50.9,326.1 60.1,326.1 69.2,326.1 78.4,325.8 87.5,325.6 96.7,325.0 105.8,324.4 115.0,323.8 124.1,323.3 133.3,322.1 142.4,322.1 151.6,321.5 160.7,321.0 169.9,321.0 179.0,321.0"/>
<polyline points="50.9,314.2 60.1,305.0 69.2,300.3 78.4,298.7 87.5,305.7 96.7,306.2 105.8,292.3 115.0,289.8 124.1,292.2 133.3,272.8 142.4,274.9 151.6,274.3 160.7,260.6 169.9,281.6 179.0,256.5"/>
<polyline points="50.9,305.5 60.1,303.6 69.2,297.9 78.4,302.4 87.5,303.7 96.7,304.4 105.8,295.8 115.0,290.0 124.1,282.8 133.3,285.4 142.4,275.5 151.6,276.0 160.7,264.8 169.9,277.4 179.0,271.7"/>
<polyline points="50.9,307.6 60.1,304.8 69.2,305.5 78.4,296.7 87.5,307.5 96.7,302.5 105.8,298.4 115.0,279.6 124.1,281.2 133.3,276.6 142.4,283.2 151.6,272.6 160.7,262.3 169.9,281.1 179.0,257.3"/>
<polyline points="50.9,315.2 60.1,317.9 69.2,317.1 78.4,317.3 87.5,316.3 96.7,315.5 105.8,317.5 115.0,310.4 124.1,317.3 133.3,308.8 142.4,306.2 151.6,305.8 160.7,293.4 169.9,295.9 179.0,277.9"/>
<polyline points="50.9,322.9 60.1,324.3 69.2,323.3 78.4,321.1 87.5,322.6 96.7,312.4 105.8,310.5 115.0,305.4 124.1,300.5 133.3,302.2 142.4,287.7 151.6,281.9 160.7,278.1 169.9,277.3 179.0,253.3"/>
<polyline points="50.9,321.7 60.1,318.9 69.2,321.8 78.4,315.4 87.5,319.4 96.7,318.2 105.8,315.9 115.0,314.1 124.1,306.1 133.3,306.0 142.4,297.3 151.6,301.5 160.7,294.6 169.9,308.4 179.0,287.3"/>
<polyline points="50.9,309.5 60.1,308.5 69.2,304.7 78.4,309.0 87.5,309.7 96.7,301.8 105.8,299.5 115.0,301.2 124.1,293.5 133.3,295.7 142.4,290.9 151.6,292.8 160.7,271.7 169.9,274.4 179.0,266.0"/>
<polyline points="50.9,321.6 60.1,323.7 69.2,323.2 78.4,322.7 87.5,322.5 96.7,320.5 105.8,312.4 115.0,314.1 124.1,300.8 133.3,310.5 142.4,307.9 151.6,307.0 160.7,294.6 169.9,295.7 179.0,303.7"/>
<polyline points="50.9,320.8 60.1,320.7 69.2,321.0 78.4,320.0 87.5,322.1 96.7,321.0 105.8,319.9 115.0,309.1 124.1,312.0 133.3,307.9 142.4,293.9 151.6,295.3 160.7,298.0 169.9,290.7 179.0,297.4"/>
<polyline points="50.9,304.3 60.1,308.0 69.2,306.9 78.4,309.1 87.5,301.9 96.7,308.3 105.8,297.2 115.0,296.7 124.1,302.3 133.3,274.6 142.4,300.0 151.6,286.8 160.7,278.0 169.9,254.8 179.0,275.1"/>
<polyline points="50.9,319.3 60.1,320.9 69.2,320.8 78.4,320.6 87.5,320.8 96.7,317.7 105.8,318.2 115.0,311.0 124.1,313.8 133.3,311.0 142.4,309.4 151.6,301.6 160.7,307.9 169.9,313.1 179.0,296.1"/>
<polyline points="50.9,310.4 60.1,305.3 69.2,312.2 78.4,299.0 87.5,301.7 96.7,299.9 105.8,296.5 115.0,287.2 124.1,293.8 133.3,281.9 142.4,269.8 151.6,269.1 160.7,274.0 169.9,278.0 179.0,267.9"/>
<polyline points="50.9,314.0 60.1,314.0 69.2,320.8 78.4,314.0 87.5,307.9 96.7,307.7 105.8,310.4 115.0,306.8 124.1,296.4 133.3,297.7 142.4,300.8 151.6,299.3 160.7,281.4 169.9,294.5 179.0,288.3"/>
<polyline points="50.9,322.8 60.1,325.2 69.2,325.1 78.4,325.4 87.5,325.3 96.7,323.7 105.8,319.8 115.0,319.2 124.1,322.2 133.3,317.0 142.4,307.4 151.6,306.1 160.7,316.4 169.9,307.6 179.0,299.7"/>
<polyline points="50.9,318.5 60.1,317.6 69.2,312.5 78.4,313.9 87.5,314.1 96.7,311.9 105.8,309.7 115.0,309.3 124.1,304.1 133.3,296.0 142.4,293.9 151.6,278.9 160.7,273.4 169.9,264.4 179.0,246.8"/>
<polyline points="50.9,310.5 60.1,310.4 69.2,311.2 78.4,307.6 87.5,307.3 96.7,301.4 105.8,303.9 115.0,309.7 124.1,295.2 133.3,303.2 142.4,292.2 151.6,282.8 160.7,286.7 169.9,286.1 179.0,271.0"/>
<polyline points="50.9,313.4 60.1,316.0 69.2,315.7 78.4,316.1 87.5,316.4 96.7,311.3 105.8,313.6 115.0,303.8 124.1,303.5 133.3,305.9 142.4,303.7 151.6,304.7 160.7,303.3 169.9,302.7 179.0,297.6"/>
<polyline points="50.9,318.3 60.1,314.9 69.2,313.3 78.4,315.9 87.5,317.3 96.7,309.4 105.8,309.1 115.0,312.4 124.1,307.1 133.3,297.6 142.4,291.3 151.6,272.1 160.7,272.9 169.9,278.8 179.0,273.7"/>
<polyline points="50.9,318.0 60.1,319.6 69.2,321.5 78.4,321.3 87.5,321.2 96.7,314.8 105.8,318.1 115.0,312.2 124.1,304.8 133.3,303.2 142.4,292.2 151.6,286.5 160.7,286.3 169.9,289.0 179.0,290.9"/>
<polyline points="50.9,314.4 60.1,307.3 69.2,310.0 78.4,301.4 87.5,304.8 96.7,299.8 105.8,298.8 115.0,304.1 124.1,288.0 133.3,284.5 142.4,284.7 151.6,262.2 160.7,275.2 169.9,265.4 179.0,275.0"/>
<polyline points="50.9,314.1 60.1,314.4 69.2,314.9 78.4,312.0 87.5,308.5 96.7,315.0 105.8,311.8 115.0,305.0 124.1,288.9 133.3,309.8 142.4,303.5 151.6,283.6 160.7,287.7 169.9,269.5 179.0,278.3"/>
<polyline points="50.9,310.0 60.1,304.7 69.2,299.7 78.4,306.3 87.5,301.8 96.7,295.6 105.8,294.6 115.0,294.5 124.1,303.7 133.3,288.1 142.4,286.4 151.6,287.2 160.7,262.8 169.9,289.2 179.0,272.5"/>
<polyline points="50.9,315.1 60.1,314.1 69.2,318.9 78.4,320.2 87.5,318.5 96.7,321.5 105.8,318.5 115.0,317.7 124.1,321.7 133.3,312.4 142.4,318.9 151.6,320.7 160.7,307.7 169.9,312.8 179.0,319.7"/>
<polyline points="50.9,312.1 60.1,310.3 69.2,309.1 78.4,311.2 87.5,311.8 96.7,308.6 105.8,309.4 115.0,304.4 124.1,296.5 133.3,305.0 142.4,297.7 151.6,293.6 160.7,286.6 169.9,284.9 179.0,288.7"/>
<polyline points="50.9,324.8 60.1,321.5 69.2,324.4 78.4,323.2 87.5,322.2 96.7,323.9 105.8,318.1 115.0,318.2 124.1,319.4 133.3,321.0 142.4,319.3 151.6,316.4 160.7,313.5 169.9,319.0 179.0,317.3"/>
<polyline points="50.9,313.1 60.1,309.9 69.2,303.6 78.4,311.9 87.5,306.9 96.7,293.1 105.8,295.7 115.0,279.7 124.1,279.2 133.3,283.3 142.4,282.6 151.6,272.6 160.7,260.0 169.9,278.1 179.0,248.0"/>
<polyline points="50.9,321.6 60.1,321.3 69.2,315.7 78.4,317.7 87.5,317.5 96.7,310.0 105.8,315.4 115.0,314.3 124.1,308.2 133.3,306.0 142.4,309.8 151.6,301.7 160.7,301.1 169.9,310.6 179.0,307.4"/>
<polyline points="50.9,321.8 60.1,320.6 69.2,320.2 78.4,321.9 87.5,318.7 96.7,314.8 105.8,315.9 115.0,313.6 124.1,308.8 133.3,303.8 142.4,300.2 151.6,305.0 160.7,296.8 169.9,279.4 179.0,274.1"/>
<polyline points="50.9,315.0 60.1,317.9 69.2,316.7 78.4,308.3 87.5,319.4 96.7,309.7 105.8,302.4 115.0,300.9 124.1,290.6 133.3,302.8 142.4,289.4 151.6,294.0 160.7,294.2 169.9,291.7 179.0,290.7"/>
<polyline points="50.9,308.9 60.1,306.9 69.2,315.0 78.4,304.0 87.5,303.1 96.7,313.3 105.8,300.0 115.0,295.3 124.1,290.6 133.3,283.3 142.4,302.6 151.6,297.6 160.7,289.7 169.9,286.2 179.0,295.4"/>
<polyline points="50.9,317.3 60.1,320.1 69.2,315.8 78.4,317.7 87.5,317.6 96.7,318.9 105.8,314.7 115.0,316.9 124.1,307.8 133.3,305.9 142.4,312.4 151.6,306.3 160.7,302.7 169.9,306.1 179.0,292.4"/>
<polyline points="50.9,315.9 60.1,313.7 69.2,312.8 78.4,314.8 87.5,316.4 96.7,312.1 105.8,300.4 115.0,307.1 124.1,304.2 133.3,298.7 142.4,296.4 151.6,297.9 160.7,291.9 169.9,276.9 179.0,290.4"/>
<polyline points="50.9,321.4 60.1,321.1 69.2,323.2 78.4,325.6 87.5,325.1 96.7,324.8 105.8,324.0 115.0,319.5 124.1,319.9 133.3,314.8 142.4,316.4 151.6,315.1 160.7,298.7 169.9,303.9 179.0,303.4"/>
<polyline points="50.9,311.6 60.1,304.3 69.2,302.3 78.4,314.2 87.5,302.2 96.7,300.7 105.8,291.6 115.0,293.6 124.1,292.8 133.3,300.1 142.4,281.8 151.6,264.8 160.7,285.4 169.9,261.7 179.0,264.2"/>
<polyline points="50.9,323.6 60.1,322.1 69.2,322.3 78.4,322.7 87.5,318.8 96.7,323.0 105.8,321.1 115.0,323.5 124.1,322.8 133.3,321.5 142.4,321.6 151.6,317.7 160.7,318.4 169.9,316.4 179.0,308.8"/>
<polyline points="50.9,324.7 60.1,321.6 69.2,324.0 78.4,323.2 87.5,324.5 96.7,321.6 105.8,323.5 115.0,321.1 124.1,322.2 133.3,316.4 142.4,317.7 151.6,313.2 160.7,318.8 169.9,315.0 179.0,313.5"/>
<polyline points="50.9,325.2 60.1,324.4 69.2,325.8 78.4,325.5 87.5,324.7 96.7,322.7 105.8,321.5 115.0,319.5 124.1,318.7 133.3,319.5 142.4,321.4 151.6,320.7 160.7,313.6 169.9,320.2 179.0,317.1"/>
<polyline points="50.9,319.6 60.1,316.9 69.2,317.9 78.4,318.6 87.5,321.5 96.7,319.2 105.8,321.2 115.0,322.3 124.1,316.3 133.3,312.7 142.4,313.8 151.6,320.7 160.7,315.7 169.9,317.6 179.0,312.7"/>
<polyline points="50.9,324.9 60.1,326.0 69.2,321.7 78.4,321.1 87.5,324.2 96.7,324.9 105.8,323.9 115.0,323.2 124.1,319.2 133.3,315.0 142.4,319.3 151.6,320.9 160.7,315.6 169.9,311.6 179.0,319.0"/>
<polyline points="50.9,323.6 60.1,322.2 69.2,322.3 78.4,320.8 87.5,319.3 96.7,318.0 105.8,314.4 115.0,313.0 124.1,312.4 133.3,310.2 142.4,313.3 151.6,300.9 160.7,302.9 169.9,309.7 179.0,310.4"/>
<polyline points="50.9,311.0 60.1,313.7 69.2,315.3 78.4,311.9 87.5,313.2 96.7,315.4 105.8,312.0 115.0,308.2 124.1,303.2 133.3,288.3 142.4,289.3 151.6,295.6 160.7,281.5 169.9,295.3 179.0,278.0"/>
<polyline points="50.9,319.2 60.1,318.4 69.2,323.7 78.4,322.6 87.5,324.9 96.7,320.4 105.8,322.5 115.0,323.6 124.1,322.7 133.3,322.0 142.4,315.4 151.6,317.9 160.7,319.8 169.9,319.0 179.0,314.7"/>
<polyline points="50.9,309.2 60.1,306.5 69.2,313.4 78.4,300.6 87.5,310.7 96.7,306.9 105.8,297.2 115.0,290.3 124.1,285.8 133.3,284.8 142.4,269.5 151.6,274.4 160.7,271.0 169.9,259.0 179.0,269.0"/>
<polyline points="50.9,317.4 60.1,315.3 69.2,315.2 78.4,308.0 87.5,312.3 96.7,308.0 105.8,306.7 115.0,307.3 124.1,304.6 133.3,291.3 142.4,288.8 151.6,276.5 160.7,277.9 169.9,267.7 179.0,270.5"/>
<polyline points="50.9,325.8 60.1,324.9 69.2,325.2 78.4,323.9 87.5,318.7 96.7,317.2 105.8,314.2 115.0,312.7 124.1,308.5 133.3,303.5 142.4,286.1 151.6,287.9 160.7,278.4 169.9,267.4 179.0,253.3"/>
<polyline points="50.9,316.5 60.1,315.6 69.2,317.5 78.4,312.2 87.5,318.4 96.7,316.0 105.8,313.5 115.0,314.3 124.1,307.1 133.3,308.0 142.4,317.3 151.6,319.3 160.7,319.9 169.9,317.3 179.0,319.1"/>
<polyline points="50.9,310.3 60.1,311.5 69.2,304.2 78.4,311.0 87.5,306.6 96.7,299.3 105.8,302.6 115.0,295.3 124.1,292.4 133.3,288.1 142.4,288.2 151.6,264.8 160.7,272.2 169.9,271.1 179.0,274.5"/>
<polyline points="50.9,299.8 60.1,306.0 69.2,312.5 78.4,304.4 87.5,313.4 96.7,308.6 105.8,299.4 115.0,303.1 124.1,285.6 133.3,297.8 142.4,283.8 151.6,263.6 160.7,277.3 169.9,266.2 179.0,248.3"/>
<polyline points="50.9,322.5 60.1,320.0 69.2,321.8 78.4,322.3 87.5,323.2 96.7,322.9 105.8,317.0 115.0,311.7 124.1,306.4 133.3,308.6 142.4,313.5 151.6,303.4 160.7,300.8 169.9,297.3 179.0,298.9"/>
<polyline points="50.9,311.4 60.1,315.2 69.2,314.5 78.4,307.6 87.5,305.9 96.7,296.8 105.8,296.8 115.0,286.1 124.1,292.6 133.3,284.8 142.4,277.1 151.6,271.7 160.7,275.6 169.9,266.0 179.0,267.5"/>
<polyline points="50.9,315.4 60.1,308.8 69.2,312.7 78.4,316.6 87.5,313.2 96.7,309.7 105.8,312.2 115.0,308.3 124.1,295.8 133.3,308.2 142.4,297.4 151.6,303.3 160.7,297.8 169.9,279.5 179.0,286.5"/>
<polyline points="50.9,316.7 60.1,321.0 69.2,320.5 78.4,314.2 87.5,318.4 96.7,317.0 105.8,314.0 115.0,316.5 124.1,312.6 133.3,310.5 142.4,308.6 151.6,304.2 160.7,301.8 169.9,301.6 179.0,292.3"/>
<polyline points="50.9,321.5 60.1,322.0 69.2,322.4 78.4,325.5 87.5,325.1 96.7,323.0 105.8,320.0 115.0,321.2 124.1,317.5 133.3,315.1 142.4,321.5 151.6,320.7 160.7,318.5 169.9,320.1 179.0,319.9"/>
<polyline points="50.9,319.6 60.1,314.5 69.2,314.8 78.4,313.3 87.5,315.7 96.7,308.9 105.8,308.8 115.0,314.0 124.1,297.7 133.3,311.2 142.4,301.3 151.6,301.8 160.7,293.2 169.9,300.5 179.0,283.6"/>
<polyline points="50.9,310.6 60.1,308.9 69.2,305.2 78.4,309.6 87.5,305.0 96.7,297.5 105.8,304.7 115.0,292.2 124.1,284.0 133.3,286.9 142.4,281.2 151.6,278.0 160.7,277.5 169.9,258.8 179.0,260.0"/>
<polyline points="50.9,314.9 60.1,306.8 69.2,310.6 78.4,307.6 87.5,313.3 96.7,309.3 105.8,298.7 115.0,311.3 124.1,299.8 133.3,303.9 142.4,305.7 151.6,309.7 160.7,307.6 169.9,314.2 179.0,315.0"/>
<polyline points="50.9,325.2 60.1,325.7 69.2,323.4 78.4,325.5 87.5,323.2 96.7,322.8 105.8,324.2 115.0,323.7 124.1,322.8 133.3,319.4 142.4,318.1 151.6,312.7 160.7,312.2 169.9,316.1 179.0,313.6"/>
<polyline points="50.9,324.7 60.1,324.4 69.2,324.6 78.4,319.9 87.5,321.3 96.7,320.5 105.8,319.5 115.0,313.4 124.1,312.8 133.3,308.1 142.4,300.8 151.6,303.6 160.7,304.3 169.9,307.5 179.0,293.7"/>
<polyline points="50.9,324.5 60.1,324.4 69.2,325.9 78.4,324.8 87.5,325.2 96.7,324.6 105.8,318.4 115.0,321.6 124.1,320.9 133.3,314.6 142.4,310.3 151.6,306.3 160.7,307.7 169.9,315.1 179.0,306.3"/>
<polyline points="50.9,315.3 60.1,311.5 69.2,309.8 78.4,305.6 87.5,302.6 96.7,308.7 105.8,297.3 115.0,303.3 124.1,297.1 133.3,294.4 142.4,275.3 151.6,271.7 160.7,274.7 169.9,256.1 179.0,282.4"/>
<polyline points="50.9,307.7 60.1,314.2 69.2,311.9 78.4,314.8 87.5,311.4 96.7,314.5 105.8,308.3 115.0,305.0 124.1,307.0 133.3,297.7 142.4,295.1 151.6,295.5 160.7,297.6 169.9,297.9 179.0,287.7"/>
<polyline points="50.9,317.7 60.1,313.7 69.2,313.7 78.4,312.1 87.5,313.8 96.7,310.0 105.8,308.5 115.0,302.5 124.1,293.0 133.3,279.2 142.4,286.7 151.6,273.8 160.7,255.2 169.9,268.0 179.0,276.5"/>
<polyline points="50.9,314.2 60.1,316.6 69.2,315.0 78.4,316.6 87.5,314.5 96.7,314.6 105.8,304.6 115.0,305.8 124.1,306.2 133.3,305.0 142.4,303.6 151.6,297.5 160.7,304.6 169.9,300.0 179.0,304.1"/>
<polyline points="50.9,319.9 60.1,321.9 69.2,320.1 78.4,316.1 87.5,312.3 96.7,305.7 105.8,308.8 115.0,299.8 124.1,305.5 133.3,293.7 142.4,283.7 151.6,276.1 160.7,272.2 169.9,264.2 179.0,273.3"/>
<polyline points="50.9,320.3 60.1,321.1 69.2,322.3 78.4,317.9 87.5,320.1 96.7,317.0 105.8,316.8 115.0,317.3 124.1,315.1 133.3,314.7 142.4,313.0 151.6,312.8 160.7,306.0 169.9,308.2 179.0,303.8"/>
<polyline points="50.9,315.2 60.1,313.6 69.2,312.8 78.4,315.2 87.5,317.1 96.7,299.1 105.8,302.3 115.0,309.7 124.1,308.2 133.3,300.4 142.4,304.9 151.6,295.3 160.7,290.1 169.9,270.9 179.0,279.8"/>
<polyline points="50.9,309.2 60.1,317.4 69.2,317.2 78.4,313.2 87.5,316.2 96.7,310.6 105.8,311.1 115.0,310.8 124.1,313.0 133.3,303.2 142.4,303.5 151.6,300.6 160.7,305.4 169.9,308.5 179.0,314.1"/>
</g>
<path class="ax" d="M41.8 212.0V326.7H179.0M41.8 326.7h3.2M41.8 298.0h3.2M41.8 269.4h3.2M41.8 240.7h3.2M41.8 212.0h3.2M41.8 326.7v-3.2M87.5 326.7v-3.2M133.3 326.7v-3.2M179.0 326.7v-3.2"/>
<text class="t" text-anchor="end" x="37.6" y="331.1">0</text>
<text class="t" text-anchor="end" x="37.6" y="302.4">0.1</text>
<text class="t" text-anchor="end" x="37.6" y="273.8">0.2</text>
<text class="t" text-anchor="end" x="37.6" y="245.1">0.3</text>
<text class="t" text-anchor="end" x="37.6" y="216.4">0.4</text>
<text class="t" text-anchor="middle" x="40.8" y="341.6">2000</text>
<text class="t" text-anchor="middle" x="86.5" y="341.6">2005</text>
<text class="t" text-anchor="middle" x="132.3" y="341.6">2010</text>
<text class="t" text-anchor="middle" x="178.0" y="341.6">2015</text>
<text class="t" text-anchor="middle" x="110.2" y="355.9">Year</text>
<text class="t" text-anchor="middle" transform="translate(11.4 267.9) rotate(-90)">System peak load (GW)</text>
<text class="b" x="71.3" y="376.3">(c)</text>
<text class="t" x="94.2" y="376.3">Chengdu</text>
<g class="pl">
<polyline points="252.9,304.8 262.1,300.8 271.2,295.7 280.4,291.9 289.5,281.9 298.7,284.8 307.8,264.2 317.0,277.7 326.1,264.2 335.3,256.1 344.4,244.7 353.6,250.9 362.7,220.9 371.9,235.8 381.0,233.2"/>
<polyline points="252.9,306.4 262.1,296.7 271.2,297.9 280.4,283.3 289.5,287.4 298.7,277.1 307.8,270.1 317.0,267.1 326.1,269.3 335.3,245.6 344.4,251.1 353.6,239.0 362.7,236.0 371.9,226.6 381.0,239.3"/>
<polyline points="252.9,325.7 262.1,325.7 271.2,325.3 280.4,324.8 289.5,324.3 298.7,323.8 307.8,322.9 317.0,321.9 326.1,321.5 335.3,321.0 344.4,320.0 353.6,319.1 362.7,318.1 371.9,317.2 381.0,317.2"/>
<polyline points="252.9,310.6 262.1,298.2 271.2,297.7 280.4,297.9 289.5,289.9 298.7,284.2 307.8,267.9 317.0,276.3 326.1,285.4 335.3,263.0 344.4,262.2 353.6,257.4 362.7,226.3 371.9,252.6 381.0,261.4"/>
<polyline points="252.9,307.3 262.1,301.0 271.2,298.2 280.4,294.7 289.5,287.8 298.7,296.0 307.8,268.5 317.0,278.9 326.1,270.4 335.3,269.4 344.4,265.6 353.6,262.0 362.7,225.8 371.9,249.8 381.0,252.6"/>
<polyline points="252.9,312.3 262.1,312.5 271.2,302.2 280.4,289.6 289.5,298.3 298.7,285.3 307.8,280.6 317.0,279.7 326.1,281.0 335.3,259.1 344.4,260.1 353.6,253.8 362.7,259.4 371.9,256.9 381.0,266.2"/>
<polyline points="252.9,321.3 262.1,320.8 271.2,321.8 280.4,318.9 289.5,315.6 298.7,317.0 307.8,310.8 317.0,308.6 326.1,314.7 335.3,310.5 344.4,306.4 353.6,310.4 362.7,300.5 371.9,311.4 381.0,306.6"/>
<polyline points="252.9,312.8 262.1,318.3 271.2,312.3 280.4,312.9 289.5,305.8 298.7,302.1 307.8,302.5 317.0,291.8 326.1,283.7 335.3,291.1 344.4,293.9 353.6,295.5 362.7,270.4 371.9,287.9 381.0,256.0"/>
<polyline points="252.9,320.2 262.1,315.1 271.2,312.0 280.4,313.6 289.5,310.2 298.7,309.2 307.8,298.8 317.0,296.3 326.1,295.8 335.3,286.7 344.4,299.2 353.6,278.7 362.7,264.6 371.9,254.6 381.0,241.9"/>
<polyline points="252.9,313.7 262.1,310.9 271.2,313.7 280.4,311.6 289.5,310.1 298.7,310.6 307.8,307.8 317.0,306.0 326.1,305.7 335.3,311.2 344.4,298.4 353.6,303.9 362.7,309.9 371.9,308.7 381.0,313.0"/>
<polyline points="252.9,311.5 262.1,307.7 271.2,299.5 280.4,292.0 289.5,288.7 298.7,287.9 307.8,282.5 317.0,277.3 326.1,277.3 335.3,279.0 344.4,268.0 353.6,271.2 362.7,257.0 371.9,252.0 381.0,237.7"/>
<polyline points="252.9,315.7 262.1,314.7 271.2,306.5 280.4,313.0 289.5,308.8 298.7,312.4 307.8,309.1 317.0,307.4 326.1,318.4 335.3,312.2 344.4,318.9 353.6,316.8 362.7,309.7 371.9,308.1 381.0,313.8"/>
<polyline points="252.9,312.8 262.1,309.5 271.2,305.4 280.4,304.5 289.5,300.3 298.7,305.5 307.8,298.4 317.0,288.1 326.1,286.3 335.3,270.5 344.4,266.7 353.6,255.7 362.7,258.0 371.9,247.4 381.0,235.9"/>
<polyline points="252.9,318.2 262.1,321.4 271.2,321.5 280.4,321.7 289.5,319.4 298.7,323.3 307.8,316.1 317.0,317.8 326.1,313.8 335.3,310.8 344.4,319.7 353.6,318.6 362.7,316.3 371.9,313.6 381.0,316.0"/>
<polyline points="252.9,311.4 262.1,305.8 271.2,303.6 280.4,304.2 289.5,288.8 298.7,288.8 307.8,297.9 317.0,281.9 326.1,290.2 335.3,301.0 344.4,286.7 353.6,283.2 362.7,295.6 371.9,300.0 381.0,283.0"/>
<polyline points="252.9,313.5 262.1,308.5 271.2,307.2 280.4,306.6 289.5,299.3 298.7,292.3 307.8,295.3 317.0,285.0 326.1,296.5 335.3,287.6 344.4,289.6 353.6,285.1 362.7,277.2 371.9,290.0 381.0,293.3"/>
<polyline points="252.9,311.8 262.1,302.0 271.2,301.5 280.4,304.8 289.5,294.8 298.7,284.5 307.8,290.7 317.0,270.4 326.1,275.2 335.3,271.2 344.4,272.1 353.6,255.9 362.7,256.5 371.9,242.7 381.0,248.1"/>
<polyline points="252.9,311.4 262.1,304.1 271.2,305.7 280.4,300.8 289.5,305.7 298.7,289.7 307.8,299.4 317.0,295.9 326.1,279.2 335.3,276.3 344.4,258.1 353.6,269.6 362.7,270.4 371.9,254.3 381.0,246.1"/>
<polyline points="252.9,320.7 262.1,317.5 271.2,316.2 280.4,313.6 289.5,310.4 298.7,312.3 307.8,308.4 317.0,295.0 326.1,298.8 335.3,297.0 344.4,295.2 353.6,292.7 362.7,310.9 371.9,295.8 381.0,289.1"/>
<polyline points="252.9,315.4 262.1,313.6 271.2,305.8 280.4,302.2 289.5,306.1 298.7,290.7 307.8,299.8 317.0,300.9 326.1,297.1 335.3,298.5 344.4,293.6 353.6,289.2 362.7,304.2 371.9,279.7 381.0,289.6"/>
<polyline points="252.9,317.7 262.1,312.3 271.2,306.7 280.4,299.0 289.5,304.3 298.7,294.1 307.8,295.5 317.0,286.8 326.1,277.6 335.3,280.7 344.4,273.0 353.6,264.7 362.7,254.0 371.9,270.7 381.0,278.1"/>
<polyline points="252.9,318.9 262.1,313.0 271.2,315.4 280.4,315.8 289.5,310.3 298.7,312.0 307.8,316.4 317.0,307.2 326.1,307.4 335.3,314.9 344.4,307.7 353.6,308.8 362.7,309.0 371.9,313.0 381.0,300.1"/>
<polyline points="252.9,310.8 262.1,307.7 271.2,301.8 280.4,294.4 289.5,301.9 298.7,281.7 307.8,286.0 317.0,267.8 326.1,272.2 335.3,266.5 344.4,270.4 353.6,254.7 362.7,241.7 371.9,242.5 381.0,239.6"/>
<polyline points="252.9,321.1 262.1,319.8 271.2,316.8 280.4,315.6 289.5,317.0 298.7,309.9 307.8,315.8 317.0,300.4 326.1,298.6 335.3,298.6 344.4,293.7 353.6,297.4 362.7,293.1 371.9,271.5 381.0,278.9"/>
<polyline points="252.9,320.3 262.1,316.2 271.2,321.0 280.4,324.1 289.5,323.4 298.7,320.1 307.8,318.9 317.0,319.8 326.1,318.6 335.3,320.4 344.4,316.5 353.6,318.1 362.7,317.0 371.9,316.1 381.0,316.5"/>
<polyline points="252.9,309.5 262.1,305.9 271.2,305.7 280.4,311.0 289.5,300.9 298.7,300.0 307.8,286.0 317.0,293.5 326.1,290.1 335.3,289.1 344.4,289.1 353.6,285.5 362.7,282.9 371.9,295.5 381.0,275.7"/>
<polyline points="252.9,315.7 262.1,315.6 271.2,310.4 280.4,311.9 289.5,313.7 298.7,314.1 307.8,302.5 317.0,304.6 326.1,306.9 335.3,308.6 344.4,317.1 353.6,311.0 362.7,310.7 371.9,315.0 381.0,316.0"/>
<polyline points="252.9,308.5 262.1,302.0 271.2,303.9 280.4,303.2 289.5,294.0 298.7,293.0 307.8,291.3 317.0,290.6 326.1,276.1 335.3,288.0 344.4,291.9 353.6,290.3 362.7,295.3 371.9,303.0 381.0,296.7"/>
<polyline points="252.9,321.6 262.1,323.7 271.2,319.6 280.4,317.3 289.5,315.5 298.7,312.9 307.8,311.4 317.0,305.3 326.1,298.9 335.3,296.4 344.4,297.7 353.6,280.8 362.7,293.9 371.9,285.4 381.0,288.6"/>
<polyline points="252.9,320.4 262.1,322.7 271.2,319.5 280.4,322.1 289.5,314.5 298.7,310.8 307.8,312.6 317.0,311.0 326.1,307.8 335.3,301.7 344.4,298.5 353.6,299.7 362.7,293.6 371.9,301.5 381.0,299.9"/>
<polyline points="252.9,311.5 262.1,307.3 271.2,310.7 280.4,302.2 289.5,295.5 298.7,294.3 307.8,279.6 317.0,272.7 326.1,278.0 335.3,259.0 344.4,261.3 353.6,246.4 362.7,260.2 371.9,246.5 381.0,252.8"/>
<polyline points="252.9,325.1 262.1,323.6 271.2,321.8 280.4,324.1 289.5,323.8 298.7,319.8 307.8,319.9 317.0,321.2 326.1,315.7 335.3,317.8 344.4,312.9 353.6,318.7 362.7,315.6 371.9,316.9 381.0,316.6"/>
<polyline points="252.9,308.0 262.1,307.8 271.2,310.4 280.4,295.1 289.5,294.4 298.7,294.8 307.8,295.1 317.0,297.3 326.1,287.9 335.3,287.7 344.4,278.2 353.6,290.2 362.7,294.0 371.9,291.1 381.0,292.3"/>
<polyline points="252.9,309.1 262.1,306.3 271.2,298.7 280.4,294.7 289.5,294.7 298.7,282.2 307.8,292.6 317.0,270.5 326.1,287.2 335.3,283.5 344.4,291.5 353.6,282.4 362.7,274.9 371.9,289.0 381.0,277.2"/>
<polyline points="252.9,315.1 262.1,312.8 271.2,311.4 280.4,310.9 289.5,307.0 298.7,309.8 307.8,306.1 317.0,294.5 326.1,300.9 335.3,296.4 344.4,292.9 353.6,303.0 362.7,296.1 371.9,293.3 381.0,293.1"/>
<polyline points="252.9,314.0 262.1,304.4 271.2,309.6 280.4,312.8 289.5,311.0 298.7,313.1 307.8,302.4 317.0,311.5 326.1,305.3 335.3,304.1 344.4,306.7 353.6,302.8 362.7,302.5 371.9,302.0 381.0,296.7"/>
<polyline points="252.9,325.5 262.1,325.4 271.2,325.0 280.4,324.4 289.5,323.7 298.7,321.8 307.8,320.1 317.0,320.5 326.1,316.7 335.3,317.1 344.4,317.5 353.6,315.6 362.7,317.2 371.9,310.9 381.0,315.2"/>
<polyline points="252.9,323.3 262.1,325.4 271.2,320.6 280.4,320.4 289.5,324.0 298.7,322.8 307.8,320.4 317.0,317.4 326.1,321.2 335.3,319.6 344.4,314.8 353.6,318.9 362.7,313.8 371.9,315.2 381.0,316.8"/>
<polyline points="252.9,322.5 262.1,319.5 271.2,319.7 280.4,314.8 289.5,317.0 298.7,313.0 307.8,312.5 317.0,314.8 326.1,312.3 335.3,310.3 344.4,312.8 353.6,314.8 362.7,310.1 371.9,315.8 381.0,304.3"/>
<polyline points="252.9,316.8 262.1,309.0 271.2,304.8 280.4,310.6 289.5,307.8 298.7,305.9 307.8,307.8 317.0,300.8 326.1,273.4 335.3,289.3 344.4,306.0 353.6,283.7 362.7,301.8 371.9,297.1 381.0,293.1"/>
<polyline points="252.9,322.7 262.1,322.2 271.2,322.4 280.4,321.1 289.5,320.5 298.7,316.6 307.8,313.7 317.0,304.9 326.1,313.6 335.3,315.6 344.4,308.5 353.6,315.3 362.7,311.7 371.9,309.9 381.0,309.0"/>
<polyline points="252.9,312.0 262.1,309.8 271.2,310.2 280.4,309.7 289.5,298.6 298.7,301.1 307.8,285.2 317.0,294.6 326.1,282.9 335.3,270.5 344.4,270.7 353.6,250.1 362.7,236.1 371.9,246.4 381.0,243.4"/>
<polyline points="252.9,317.8 262.1,304.9 271.2,305.1 280.4,292.6 289.5,285.7 298.7,279.3 307.8,297.1 317.0,267.5 326.1,271.2 335.3,271.3 344.4,268.8 353.6,252.7 362.7,266.6 371.9,248.8 381.0,249.6"/>
<polyline points="252.9,313.9 262.1,308.6 271.2,310.8 280.4,307.1 289.5,311.9 298.7,304.7 307.8,311.0 317.0,303.4 326.1,297.5 335.3,286.2 344.4,296.7 353.6,300.7 362.7,298.3 371.9,303.2 381.0,296.4"/>
<polyline points="252.9,317.9 262.1,315.4 271.2,311.8 280.4,312.7 289.5,309.2 298.7,303.7 307.8,303.1 317.0,307.7 326.1,305.3 335.3,296.9 344.4,301.5 353.6,308.2 362.7,311.5 371.9,300.4 381.0,291.9"/>
<polyline points="252.9,320.3 262.1,318.1 271.2,317.9 280.4,315.6 289.5,317.0 298.7,305.6 307.8,299.2 317.0,297.8 326.1,297.8 335.3,294.2 344.4,304.4 353.6,277.0 362.7,251.6 371.9,248.3 381.0,240.0"/>
<polyline points="252.9,312.5 262.1,310.3 271.2,302.1 280.4,299.3 289.5,286.7 298.7,297.8 307.8,285.9 317.0,295.2 326.1,267.1 335.3,283.2 344.4,261.7 353.6,249.0 362.7,264.2 371.9,244.9 381.0,255.5"/>
<polyline points="252.9,318.5 262.1,316.0 271.2,313.5 280.4,314.3 289.5,313.4 298.7,315.3 307.8,315.8 317.0,315.4 326.1,311.8 335.3,304.7 344.4,309.2 353.6,306.4 362.7,300.1 371.9,306.9 381.0,301.4"/>
<polyline points="252.9,321.8 262.1,320.7 271.2,319.4 280.4,318.8 289.5,318.7 298.7,317.3 307.8,315.2 317.0,313.7 326.1,312.6 335.3,316.4 344.4,315.8 353.6,318.3 362.7,315.7 371.9,309.8 381.0,311.0"/>
<polyline points="252.9,321.4 262.1,322.8 271.2,325.3 280.4,321.8 289.5,324.2 298.7,323.6 307.8,322.0 317.0,317.5 326.1,320.8 335.3,317.8 344.4,315.9 353.6,318.0 362.7,317.7 371.9,313.9 381.0,316.9"/>
<polyline points="252.9,307.7 262.1,308.4 271.2,297.5 280.4,297.9 289.5,297.5 298.7,286.6 307.8,288.3 317.0,291.2 326.1,283.3 335.3,274.2 344.4,266.2 353.6,273.9 362.7,257.6 371.9,267.6 381.0,236.4"/>
<polyline points="252.9,322.1 262.1,321.6 271.2,318.8 280.4,318.0 289.5,313.4 298.7,318.2 307.8,310.3 317.0,316.1 326.1,309.4 335.3,318.9 344.4,319.0 353.6,309.6 362.7,310.2 371.9,307.3 381.0,314.0"/>
<polyline points="252.9,325.7 262.1,325.6 271.2,320.1 280.4,322.7 289.5,323.9 298.7,320.2 307.8,322.5 317.0,313.2 326.1,318.6 335.3,311.3 344.4,306.2 353.6,307.8 362.7,299.8 371.9,286.8 381.0,296.0"/>
<polyline points="252.9,316.4 262.1,315.5 271.2,315.9 280.4,312.0 289.5,313.4 298.7,310.0 307.8,307.7 317.0,313.0 326.1,308.9 335.3,316.5 344.4,317.8 353.6,307.0 362.7,301.8 371.9,302.9 381.0,289.4"/>
<polyline points="252.9,308.5 262.1,309.3 271.2,301.3 280.4,298.7 289.5,302.5 298.7,292.3 307.8,294.0 317.0,293.1 326.1,287.8 335.3,288.0 344.4,270.4 353.6,280.9 362.7,271.9 371.9,267.1 381.0,251.9"/>
<polyline points="252.9,313.7 262.1,316.0 271.2,311.9 280.4,299.9 289.5,305.6 298.7,304.4 307.8,300.6 317.0,303.1 326.1,301.3 335.3,295.6 344.4,302.8 353.6,297.2 362.7,293.7 371.9,278.7 381.0,284.5"/>
<polyline points="252.9,320.2 262.1,318.5 271.2,320.5 280.4,313.1 289.5,317.8 298.7,318.6 307.8,320.4 317.0,312.2 326.1,315.9 335.3,313.4 344.4,316.7 353.6,315.6 362.7,313.2 371.9,313.8 381.0,315.7"/>
<polyline points="252.9,306.1 262.1,306.9 271.2,306.7 280.4,294.9 289.5,282.7 298.7,297.3 307.8,290.8 317.0,284.9 326.1,279.2 335.3,289.3 344.4,295.8 353.6,276.1 362.7,253.4 371.9,238.2 381.0,248.0"/>
<polyline points="252.9,323.8 262.1,325.5 271.2,325.2 280.4,324.2 289.5,324.2 298.7,319.3 307.8,322.1 317.0,318.5 326.1,316.0 335.3,316.6 344.4,317.8 353.6,318.7 362.7,315.4 371.9,305.4 381.0,316.4"/>
<polyline points="252.9,321.9 262.1,322.7 271.2,322.9 280.4,323.3 289.5,319.7 298.7,323.7 307.8,317.8 317.0,316.8 326.1,314.5 335.3,318.5 344.4,316.9 353.6,314.7 362.7,312.5 371.9,309.1 381.0,312.2"/>
<polyline points="252.9,315.3 262.1,312.4 271.2,307.0 280.4,303.6 289.5,300.5 298.7,294.2 307.8,278.4 317.0,273.7 326.1,270.4 335.3,271.0 344.4,252.0 353.6,262.5 362.7,251.9 371.9,248.8 381.0,250.5"/>
<polyline points="252.9,322.0 262.1,320.6 271.2,317.9 280.4,312.0 289.5,306.1 298.7,307.2 307.8,300.1 317.0,287.6 326.1,303.8 335.3,289.1 344.4,288.6 353.6,273.6 362.7,277.1 371.9,260.2 381.0,281.0"/>
<polyline points="252.9,313.7 262.1,309.4 271.2,308.9 280.4,301.6 289.5,304.4 298.7,297.2 307.8,291.0 317.0,287.0 326.1,289.2 335.3,288.7 344.4,295.9 353.6,289.4 362.7,269.0 371.9,266.0 381.0,276.8"/>
<polyline points="252.9,315.4 262.1,319.5 271.2,314.1 280.4,310.3 289.5,315.7 298.7,307.4 307.8,311.2 317.0,310.9 326.1,305.9 335.3,305.1 344.4,308.4 353.6,311.6 362.7,306.0 371.9,307.5 381.0,304.0"/>
<polyline points="252.9,313.4 262.1,313.3 271.2,313.0 280.4,309.8 289.5,298.4 298.7,296.5 307.8,289.2 317.0,288.1 326.1,280.0 335.3,269.7 344.4,248.8 353.6,267.2 362.7,250.4 371.9,232.4 381.0,247.1"/>
<polyline points="252.9,308.2 262.1,309.6 271.2,309.2 280.4,308.7 289.5,303.8 298.7,304.6 307.8,299.8 317.0,302.0 326.1,297.6 335.3,300.5 344.4,299.6 353.6,297.5 362.7,294.2 371.9,285.8 381.0,294.3"/>
<polyline points="252.9,304.9 262.1,306.1 271.2,300.2 280.4,286.2 289.5,299.2 298.7,291.3 307.8,293.0 317.0,273.1 326.1,289.7 335.3,261.4 344.4,264.3 353.6,254.8 362.7,261.7 371.9,250.9 381.0,235.0"/>
<polyline points="252.9,306.5 262.1,306.1 271.2,298.8 280.4,288.1 289.5,285.9 298.7,298.3 307.8,277.6 317.0,287.2 326.1,271.6 335.3,269.9 344.4,267.0 353.6,270.8 362.7,251.8 371.9,251.1 381.0,255.8"/>
<polyline points="252.9,322.5 262.1,324.0 271.2,324.6 280.4,324.5 289.5,321.8 298.7,322.4 307.8,318.9 317.0,319.8 326.1,319.0 335.3,312.2 344.4,319.0 353.6,314.5 362.7,307.1 371.9,306.9 381.0,312.7"/>
<polyline points="252.9,311.5 262.1,297.5 271.2,298.2 280.4,290.0 289.5,291.5 298.7,288.5 307.8,282.6 317.0,267.1 326.1,270.7 335.3,272.8 344.4,273.1 353.6,242.8 362.7,238.7 371.9,228.8 381.0,254.2"/>
<polyline points="252.9,311.0 262.1,306.0 271.2,300.7 280.4,297.7 289.5,285.8 298.7,291.2 307.8,281.9 317.0,287.2 326.1,267.6 335.3,253.0 344.4,262.5 353.6,247.9 362.7,272.8 371.9,243.3 381.0,235.2"/>
<polyline points="252.9,320.4 262.1,319.0 271.2,315.1 280.4,313.7 289.5,314.4 298.7,308.1 307.8,302.5 317.0,296.4 326.1,300.3 335.3,289.0 344.4,289.9 353.6,262.8 362.7,268.1 371.9,248.9 381.0,257.6"/>
<polyline points="252.9,325.5 262.1,325.7 271.2,322.4 280.4,324.2 289.5,319.9 298.7,323.5 307.8,321.1 317.0,316.1 326.1,321.3 335.3,320.4 344.4,319.4 353.6,318.7 362.7,314.8 371.9,316.4 381.0,316.1"/>
<polyline points="252.9,318.0 262.1,316.4 271.2,316.3 280.4,314.5 289.5,321.8 298.7,308.1 307.8,310.4 317.0,307.0 326.1,300.0 335.3,308.0 344.4,305.9 353.6,307.2 362.7,298.1 371.9,296.7 381.0,301.3"/>
</g>
<path class="ax" d="M243.8 207.5V326.7H381.0M243.8 326.7h3.2M243.8 302.9h3.2M243.8 279.0h3.2M243.8 255.2h3.2M243.8 231.3h3.2M243.8 207.5h3.2M243.8 326.7v-3.2M289.5 326.7v-3.2M335.3 326.7v-3.2M381.0 326.7v-3.2"/>
<text class="t" text-anchor="end" x="239.5" y="331.1">0</text>
<text class="t" text-anchor="end" x="239.5" y="307.3">0.05</text>
<text class="t" text-anchor="end" x="239.5" y="283.4">0.10</text>
<text class="t" text-anchor="end" x="239.5" y="259.6">0.15</text>
<text class="t" text-anchor="end" x="239.5" y="235.7">0.20</text>
<text class="t" text-anchor="end" x="239.5" y="211.9">0.25</text>
<text class="t" text-anchor="middle" x="242.8" y="341.6">2000</text>
<text class="t" text-anchor="middle" x="288.5" y="341.6">2005</text>
<text class="t" text-anchor="middle" x="334.3" y="341.6">2010</text>
<text class="t" text-anchor="middle" x="380.0" y="341.6">2015</text>
<text class="t" text-anchor="middle" x="312.2" y="356.0">Year</text>
<text class="t" text-anchor="middle" transform="translate(206.0 266.0) rotate(-90)">Substation load (GW)</text>
<text class="b" x="277.7" y="376.3">(d)</text>
<text class="t" x="302.3" y="376.3">Jiaxing</text>
</svg>
</body></html>
